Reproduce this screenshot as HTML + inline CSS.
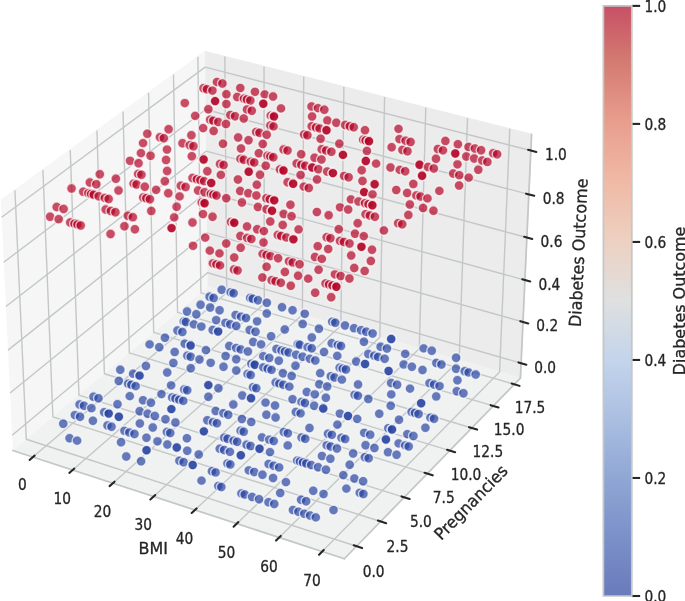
<!DOCTYPE html>
<html><head><meta charset="utf-8"><title>Diabetes 3D scatter</title>
<style>html,body{margin:0;padding:0;background:#fff;overflow:hidden}svg{display:block}</style></head>
<body>
<svg  width="685" height="601" viewBox="0 0 493.2 432.72"  version="1.1">
 
 <defs>
  <style type="text/css">*{stroke-linejoin: round; stroke-linecap: butt}</style>
 </defs>
 <g id="figure_1">
  <g id="patch_1">
   <path d="M 0 432.72 
L 493.2 432.72 
L 493.2 0 
L 0 0 
z
" style="fill: #ffffff"/>
  </g>
  <g id="patch_2">
   <path d="M -22.831 429.12 
L 402.040 429.12 
L 402.040 4.248 
L -22.831 4.248 
z
" style="fill: #ffffff"/>
  </g>
  <g id="pane3d_1">
   <g id="patch_3">
    <path d="M 9.249 324.360 
L 149.556 206.752 
L 147.605 37.140 
L 0.584 144.430 
" style="fill: #f6f6f6; stroke: #f6f6f6; stroke-linejoin: miter"/>
   </g>
  </g>
  <g id="pane3d_2">
   <g id="patch_4">
    <path d="M 149.556 206.752 
L 374.698 272.192 
L 382.732 96.738 
L 147.605 37.140 
" style="fill: #ececec; stroke: #ececec; stroke-linejoin: miter"/>
   </g>
  </g>
  <g id="pane3d_3">
   <g id="patch_5">
    <path d="M 9.249 324.360 
L 247.911 402.307 
L 374.698 272.192 
L 149.556 206.752 
" style="fill: #f0f2f1; stroke: #f0f2f1; stroke-linejoin: miter"/>
   </g>
  </g>
  <g id="grid3d_1">
   <g id="Line3DCollection_1">
    <path d="M 23.704 329.081 
L 163.248 210.732 
L 161.877 40.758 
" style="fill: none; stroke: #c3c7c7"/>
    <path d="M 52.300 338.420 
L 190.315 218.599 
L 190.098 47.911 
" style="fill: none; stroke: #c3c7c7"/>
    <path d="M 81.268 347.881 
L 217.704 226.560 
L 218.671 55.154 
" style="fill: none; stroke: #c3c7c7"/>
    <path d="M 110.615 357.466 
L 245.423 234.617 
L 247.603 62.487 
" style="fill: none; stroke: #c3c7c7"/>
    <path d="M 140.350 367.177 
L 273.476 242.771 
L 276.899 69.913 
" style="fill: none; stroke: #c3c7c7"/>
    <path d="M 170.480 377.018 
L 301.871 251.024 
L 306.567 77.433 
" style="fill: none; stroke: #c3c7c7"/>
    <path d="M 201.012 386.990 
L 330.613 259.378 
L 336.614 85.049 
" style="fill: none; stroke: #c3c7c7"/>
    <path d="M 231.956 397.096 
L 359.708 267.835 
L 367.047 92.763 
" style="fill: none; stroke: #c3c7c7"/>
   </g>
  </g>
  <g id="grid3d_2">
   <g id="Line3DCollection_2">
    <path d="M 10.751 137.010 
L 18.917 316.256 
L 256.683 393.304 
" style="fill: none; stroke: #c3c7c7"/>
    <path d="M 30.896 122.310 
L 38.089 300.185 
L 274.063 375.468 
" style="fill: none; stroke: #c3c7c7"/>
    <path d="M 50.573 107.951 
L 56.835 284.472 
L 291.037 358.049 
" style="fill: none; stroke: #c3c7c7"/>
    <path d="M 69.798 93.921 
L 75.169 269.104 
L 307.618 341.032 
" style="fill: none; stroke: #c3c7c7"/>
    <path d="M 88.587 80.209 
L 93.105 254.070 
L 323.821 324.404 
" style="fill: none; stroke: #c3c7c7"/>
    <path d="M 106.955 66.805 
L 110.655 239.359 
L 339.658 308.151 
" style="fill: none; stroke: #c3c7c7"/>
    <path d="M 124.916 53.698 
L 127.833 224.961 
L 355.141 292.262 
" style="fill: none; stroke: #c3c7c7"/>
    <path d="M 142.482 40.879 
L 144.649 210.865 
L 370.282 276.723 
" style="fill: none; stroke: #c3c7c7"/>
   </g>
  </g>
  <g id="grid3d_3">
   <g id="Line3DCollection_3">
    <path d="M 375.188 261.476 
L 149.436 196.372 
L 8.721 313.388 
" style="fill: none; stroke: #c3c7c7"/>
    <path d="M 376.548 231.781 
L 149.106 167.623 
L 7.256 282.972 
" style="fill: none; stroke: #c3c7c7"/>
    <path d="M 377.929 201.634 
L 148.770 138.457 
L 5.768 252.074 
" style="fill: none; stroke: #c3c7c7"/>
    <path d="M 379.331 171.023 
L 148.430 108.865 
L 4.256 220.684 
" style="fill: none; stroke: #c3c7c7"/>
    <path d="M 380.754 139.939 
L 148.085 78.837 
L 2.720 188.789 
" style="fill: none; stroke: #c3c7c7"/>
    <path d="M 382.200 108.371 
L 147.734 48.363 
L 1.160 156.377 
" style="fill: none; stroke: #c3c7c7"/>
   </g>
  </g>
  <g id="axis3d_1">
   <g id="line2d_1">
    <path d="M 9.249 324.360 
L 247.911 402.307 
" style="fill: none; stroke: #c3c7c7; stroke-width: 1.25; stroke-linecap: round"/>
   </g>
   <g id="xtick_1">
    <g id="line2d_2">
     <path d="M 195.346 210.942 
" clip-path="url(#p52636c809b)" style="fill: none; stroke: #c3c7c7; stroke-linecap: round"/>
    </g>
    <g id="line2d_3">
     <path d="M 24.919 328.050 
L 21.268 331.146 
" style="fill: none; stroke: #262626; stroke-width: 1.5; stroke-linecap: round"/>
    </g>
    <g id="text_1">
     <text textLength="6.30" lengthAdjust="spacingAndGlyphs" style="font-size: 11px; font-family: 'DejaVu Sans', 'Liberation Sans', sans-serif; text-anchor: middle; fill: #262626; stroke: #262626; stroke-width: 0.22" x="16.185" y="353.128">0</text>
    </g>
   </g>
   <g id="xtick_2">
    <g id="line2d_4">
     <path d="M 195.346 210.942 
" clip-path="url(#p52636c809b)" style="fill: none; stroke: #c3c7c7; stroke-linecap: round"/>
    </g>
    <g id="line2d_5">
     <path d="M 53.502 337.376 
L 49.889 340.512 
" style="fill: none; stroke: #262626; stroke-width: 1.5; stroke-linecap: round"/>
    </g>
    <g id="text_2">
     <text textLength="12.60" lengthAdjust="spacingAndGlyphs" style="font-size: 11px; font-family: 'DejaVu Sans', 'Liberation Sans', sans-serif; text-anchor: middle; fill: #262626; stroke: #262626; stroke-width: 0.22" x="44.799" y="362.591">10</text>
    </g>
   </g>
   <g id="xtick_3">
    <g id="line2d_6">
     <path d="M 195.346 210.942 
" clip-path="url(#p52636c809b)" style="fill: none; stroke: #c3c7c7; stroke-linecap: round"/>
    </g>
    <g id="line2d_7">
     <path d="M 82.457 346.823 
L 78.884 350.001 
" style="fill: none; stroke: #262626; stroke-width: 1.5; stroke-linecap: round"/>
    </g>
    <g id="text_3">
     <text textLength="12.60" lengthAdjust="spacingAndGlyphs" style="font-size: 11px; font-family: 'DejaVu Sans', 'Liberation Sans', sans-serif; text-anchor: middle; fill: #262626; stroke: #262626; stroke-width: 0.22" x="73.787" y="372.177">20</text>
    </g>
   </g>
   <g id="xtick_4">
    <g id="line2d_8">
     <path d="M 195.346 210.942 
" clip-path="url(#p52636c809b)" style="fill: none; stroke: #c3c7c7; stroke-linecap: round"/>
    </g>
    <g id="line2d_9">
     <path d="M 111.791 356.394 
L 108.259 359.614 
" style="fill: none; stroke: #262626; stroke-width: 1.5; stroke-linecap: round"/>
    </g>
    <g id="text_4">
     <text textLength="12.60" lengthAdjust="spacingAndGlyphs" style="font-size: 11px; font-family: 'DejaVu Sans', 'Liberation Sans', sans-serif; text-anchor: middle; fill: #262626; stroke: #262626; stroke-width: 0.22" x="103.155" y="381.890">30</text>
    </g>
   </g>
   <g id="xtick_5">
    <g id="line2d_10">
     <path d="M 195.346 210.942 
" clip-path="url(#p52636c809b)" style="fill: none; stroke: #c3c7c7; stroke-linecap: round"/>
    </g>
    <g id="line2d_11">
     <path d="M 141.512 366.092 
L 138.022 369.353 
" style="fill: none; stroke: #262626; stroke-width: 1.5; stroke-linecap: round"/>
    </g>
    <g id="text_5">
     <text textLength="12.60" lengthAdjust="spacingAndGlyphs" style="font-size: 11px; font-family: 'DejaVu Sans', 'Liberation Sans', sans-serif; text-anchor: middle; fill: #262626; stroke: #262626; stroke-width: 0.22" x="132.911" y="391.730">40</text>
    </g>
   </g>
   <g id="xtick_6">
    <g id="line2d_12">
     <path d="M 195.346 210.942 
" clip-path="url(#p52636c809b)" style="fill: none; stroke: #c3c7c7; stroke-linecap: round"/>
    </g>
    <g id="line2d_13">
     <path d="M 171.627 375.918 
L 168.180 379.223 
" style="fill: none; stroke: #262626; stroke-width: 1.5; stroke-linecap: round"/>
    </g>
    <g id="text_6">
     <text textLength="12.60" lengthAdjust="spacingAndGlyphs" style="font-size: 11px; font-family: 'DejaVu Sans', 'Liberation Sans', sans-serif; text-anchor: middle; fill: #262626; stroke: #262626; stroke-width: 0.22" x="163.064" y="401.702">50</text>
    </g>
   </g>
   <g id="xtick_7">
    <g id="line2d_14">
     <path d="M 195.346 210.942 
" clip-path="url(#p52636c809b)" style="fill: none; stroke: #c3c7c7; stroke-linecap: round"/>
    </g>
    <g id="line2d_15">
     <path d="M 202.145 385.875 
L 198.743 389.224 
" style="fill: none; stroke: #262626; stroke-width: 1.5; stroke-linecap: round"/>
    </g>
    <g id="text_7">
     <text textLength="12.60" lengthAdjust="spacingAndGlyphs" style="font-size: 11px; font-family: 'DejaVu Sans', 'Liberation Sans', sans-serif; text-anchor: middle; fill: #262626; stroke: #262626; stroke-width: 0.22" x="193.620" y="411.807">60</text>
    </g>
   </g>
   <g id="xtick_8">
    <g id="line2d_16">
     <path d="M 195.346 210.942 
" clip-path="url(#p52636c809b)" style="fill: none; stroke: #c3c7c7; stroke-linecap: round"/>
    </g>
    <g id="line2d_17">
     <path d="M 233.072 395.966 
L 229.717 399.361 
" style="fill: none; stroke: #262626; stroke-width: 1.5; stroke-linecap: round"/>
    </g>
    <g id="text_8">
     <text textLength="12.60" lengthAdjust="spacingAndGlyphs" style="font-size: 11px; font-family: 'DejaVu Sans', 'Liberation Sans', sans-serif; text-anchor: middle; fill: #262626; stroke: #262626; stroke-width: 0.22" x="224.589" y="422.049">70</text>
    </g>
   </g>
   <g id="text_9">
    <g transform="translate(1.08 -1.80)"><text textLength="21.17" lengthAdjust="spacingAndGlyphs" style="font-size: 12px; font-family: 'DejaVu Sans', 'Liberation Sans', sans-serif; text-anchor: middle; fill: #262626; stroke: #262626; stroke-width: 0.22" x="109.193" y="400.780">BMI</text></g>
   </g>
  </g>
  <g id="axis3d_2">
   <g id="line2d_18">
    <path d="M 374.698 272.192 
L 247.911 402.307 
" style="fill: none; stroke: #c3c7c7; stroke-width: 1.25; stroke-linecap: round"/>
   </g>
   <g id="xtick_9">
    <g id="line2d_19">
     <path d="M 195.346 210.942 
" clip-path="url(#p52636c809b)" style="fill: none; stroke: #c3c7c7; stroke-linecap: round"/>
    </g>
    <g id="line2d_20">
     <path d="M 254.680 392.654 
L 260.696 394.604 
" style="fill: none; stroke: #262626; stroke-width: 1.5; stroke-linecap: round"/>
    </g>
    <g id="text_10">
     <g transform="translate(-0.58 0.00)"><text textLength="15.74" lengthAdjust="spacingAndGlyphs" style="font-size: 11px; font-family: 'DejaVu Sans', 'Liberation Sans', sans-serif; text-anchor: middle; fill: #262626; stroke: #262626; stroke-width: 0.22" x="269.561" y="415.082">0.0</text></g>
    </g>
   </g>
   <g id="xtick_10">
    <g id="line2d_21">
     <path d="M 195.346 210.942 
" clip-path="url(#p52636c809b)" style="fill: none; stroke: #c3c7c7; stroke-linecap: round"/>
    </g>
    <g id="line2d_22">
     <path d="M 272.076 374.834 
L 278.043 376.737 
" style="fill: none; stroke: #262626; stroke-width: 1.5; stroke-linecap: round"/>
    </g>
    <g id="text_11">
     <g transform="translate(-0.58 0.00)"><text textLength="15.74" lengthAdjust="spacingAndGlyphs" style="font-size: 11px; font-family: 'DejaVu Sans', 'Liberation Sans', sans-serif; text-anchor: middle; fill: #262626; stroke: #262626; stroke-width: 0.22" x="286.795" y="397.081">2.5</text></g>
    </g>
   </g>
   <g id="xtick_11">
    <g id="line2d_23">
     <path d="M 195.346 210.942 
" clip-path="url(#p52636c809b)" style="fill: none; stroke: #c3c7c7; stroke-linecap: round"/>
    </g>
    <g id="line2d_24">
     <path d="M 289.065 357.429 
L 294.984 359.289 
" style="fill: none; stroke: #262626; stroke-width: 1.5; stroke-linecap: round"/>
    </g>
    <g id="text_12">
     <g transform="translate(-0.58 0.00)"><text textLength="15.74" lengthAdjust="spacingAndGlyphs" style="font-size: 11px; font-family: 'DejaVu Sans', 'Liberation Sans', sans-serif; text-anchor: middle; fill: #262626; stroke: #262626; stroke-width: 0.22" x="303.626" y="379.500">5.0</text></g>
    </g>
   </g>
   <g id="xtick_12">
    <g id="line2d_25">
     <path d="M 195.346 210.942 
" clip-path="url(#p52636c809b)" style="fill: none; stroke: #c3c7c7; stroke-linecap: round"/>
    </g>
    <g id="line2d_26">
     <path d="M 305.663 340.427 
L 311.534 342.244 
" style="fill: none; stroke: #262626; stroke-width: 1.5; stroke-linecap: round"/>
    </g>
    <g id="text_13">
     <g transform="translate(-0.58 0.00)"><text textLength="15.74" lengthAdjust="spacingAndGlyphs" style="font-size: 11px; font-family: 'DejaVu Sans', 'Liberation Sans', sans-serif; text-anchor: middle; fill: #262626; stroke: #262626; stroke-width: 0.22" x="320.068" y="362.326">7.5</text></g>
    </g>
   </g>
   <g id="xtick_13">
    <g id="line2d_27">
     <path d="M 195.346 210.942 
" clip-path="url(#p52636c809b)" style="fill: none; stroke: #c3c7c7; stroke-linecap: round"/>
    </g>
    <g id="line2d_28">
     <path d="M 321.881 323.813 
L 327.705 325.588 
" style="fill: none; stroke: #262626; stroke-width: 1.5; stroke-linecap: round"/>
    </g>
    <g id="text_14">
     <g transform="translate(-0.58 0.00)"><text textLength="22.04" lengthAdjust="spacingAndGlyphs" style="font-size: 11px; font-family: 'DejaVu Sans', 'Liberation Sans', sans-serif; text-anchor: middle; fill: #262626; stroke: #262626; stroke-width: 0.22" x="336.134" y="345.545">10.0</text></g>
    </g>
   </g>
   <g id="xtick_14">
    <g id="line2d_29">
     <path d="M 195.346 210.942 
" clip-path="url(#p52636c809b)" style="fill: none; stroke: #c3c7c7; stroke-linecap: round"/>
    </g>
    <g id="line2d_30">
     <path d="M 337.734 307.573 
L 343.511 309.309 
" style="fill: none; stroke: #262626; stroke-width: 1.5; stroke-linecap: round"/>
    </g>
    <g id="text_15">
     <g transform="translate(-0.58 0.00)"><text textLength="22.04" lengthAdjust="spacingAndGlyphs" style="font-size: 11px; font-family: 'DejaVu Sans', 'Liberation Sans', sans-serif; text-anchor: middle; fill: #262626; stroke: #262626; stroke-width: 0.22" x="351.838" y="329.142">12.5</text></g>
    </g>
   </g>
   <g id="xtick_15">
    <g id="line2d_31">
     <path d="M 195.346 210.942 
" clip-path="url(#p52636c809b)" style="fill: none; stroke: #c3c7c7; stroke-linecap: round"/>
    </g>
    <g id="line2d_32">
     <path d="M 353.232 291.697 
L 358.964 293.394 
" style="fill: none; stroke: #262626; stroke-width: 1.5; stroke-linecap: round"/>
    </g>
    <g id="text_16">
     <g transform="translate(-0.58 0.00)"><text textLength="22.04" lengthAdjust="spacingAndGlyphs" style="font-size: 11px; font-family: 'DejaVu Sans', 'Liberation Sans', sans-serif; text-anchor: middle; fill: #262626; stroke: #262626; stroke-width: 0.22" x="367.190" y="313.106">15.0</text></g>
    </g>
   </g>
   <g id="xtick_16">
    <g id="line2d_33">
     <path d="M 195.346 210.942 
" clip-path="url(#p52636c809b)" style="fill: none; stroke: #c3c7c7; stroke-linecap: round"/>
    </g>
    <g id="line2d_34">
     <path d="M 368.388 276.170 
L 374.075 277.830 
" style="fill: none; stroke: #262626; stroke-width: 1.5; stroke-linecap: round"/>
    </g>
    <g id="text_17">
     <g transform="translate(-0.58 0.00)"><text textLength="22.04" lengthAdjust="spacingAndGlyphs" style="font-size: 11px; font-family: 'DejaVu Sans', 'Liberation Sans', sans-serif; text-anchor: middle; fill: #262626; stroke: #262626; stroke-width: 0.22" x="382.204" y="297.424">17.5</text></g>
    </g>
   </g>
   <g id="text_18">
    <g transform="translate(-1.44 0.00)"><text textLength="69.70" lengthAdjust="spacingAndGlyphs" style="font-size: 12px; font-family: 'DejaVu Sans', 'Liberation Sans', sans-serif; text-anchor: middle; fill: #262626; stroke: #262626; stroke-width: 0.22" x="343.472" y="364.645" transform="rotate(-45.742 343.472 364.645)">Pregnancies</text></g>
   </g>
  </g>
  <g id="axis3d_3">
   <g id="line2d_35">
    <path d="M 374.698 272.192 
L 382.732 96.738 
" style="fill: none; stroke: #c3c7c7; stroke-width: 1.25; stroke-linecap: round"/>
   </g>
   <g id="xtick_17">
    <g id="line2d_36">
     <path d="M 195.346 210.942 
" style="fill: none; stroke: #c3c7c7; stroke-linecap: round"/>
    </g>
    <g id="line2d_37">
     <path d="M 373.294 260.930 
L 378.983 262.570 
" style="fill: none; stroke: #262626; stroke-width: 1.5; stroke-linecap: round"/>
    </g>
    <g id="text_19">
     <g transform="translate(-1.00 1.00)"><text textLength="15.74" lengthAdjust="spacingAndGlyphs" style="font-size: 11px; font-family: 'DejaVu Sans', 'Liberation Sans', sans-serif; text-anchor: middle; fill: #262626; stroke: #262626; stroke-width: 0.22" x="393.507" y="267.240">0.0</text></g>
    </g>
   </g>
   <g id="xtick_18">
    <g id="line2d_38">
     <path d="M 195.346 210.942 
" style="fill: none; stroke: #c3c7c7; stroke-linecap: round"/>
    </g>
    <g id="line2d_39">
     <path d="M 374.638 231.242 
L 380.372 232.860 
" style="fill: none; stroke: #262626; stroke-width: 1.5; stroke-linecap: round"/>
    </g>
    <g id="text_20">
     <g transform="translate(-1.00 1.00)"><text textLength="15.74" lengthAdjust="spacingAndGlyphs" style="font-size: 11px; font-family: 'DejaVu Sans', 'Liberation Sans', sans-serif; text-anchor: middle; fill: #262626; stroke: #262626; stroke-width: 0.22" x="395.002" y="237.581">0.2</text></g>
    </g>
   </g>
   <g id="xtick_19">
    <g id="line2d_40">
     <path d="M 195.346 210.942 
" style="fill: none; stroke: #c3c7c7; stroke-linecap: round"/>
    </g>
    <g id="line2d_41">
     <path d="M 376.004 201.103 
L 381.783 202.696 
" style="fill: none; stroke: #262626; stroke-width: 1.5; stroke-linecap: round"/>
    </g>
    <g id="text_21">
     <g transform="translate(-1.00 1.00)"><text textLength="15.74" lengthAdjust="spacingAndGlyphs" style="font-size: 11px; font-family: 'DejaVu Sans', 'Liberation Sans', sans-serif; text-anchor: middle; fill: #262626; stroke: #262626; stroke-width: 0.22" x="396.520" y="207.472">0.4</text></g>
    </g>
   </g>
   <g id="xtick_20">
    <g id="line2d_42">
     <path d="M 195.346 210.942 
" style="fill: none; stroke: #c3c7c7; stroke-linecap: round"/>
    </g>
    <g id="line2d_43">
     <path d="M 377.390 170.501 
L 383.216 172.069 
" style="fill: none; stroke: #262626; stroke-width: 1.5; stroke-linecap: round"/>
    </g>
    <g id="text_22">
     <g transform="translate(-1.00 1.00)"><text textLength="15.74" lengthAdjust="spacingAndGlyphs" style="font-size: 11px; font-family: 'DejaVu Sans', 'Liberation Sans', sans-serif; text-anchor: middle; fill: #262626; stroke: #262626; stroke-width: 0.22" x="398.062" y="176.901">0.6</text></g>
    </g>
   </g>
   <g id="xtick_21">
    <g id="line2d_44">
     <path d="M 195.346 210.942 
" style="fill: none; stroke: #c3c7c7; stroke-linecap: round"/>
    </g>
    <g id="line2d_45">
     <path d="M 378.798 139.426 
L 384.670 140.968 
" style="fill: none; stroke: #262626; stroke-width: 1.5; stroke-linecap: round"/>
    </g>
    <g id="text_23">
     <g transform="translate(-1.00 1.00)"><text textLength="15.74" lengthAdjust="spacingAndGlyphs" style="font-size: 11px; font-family: 'DejaVu Sans', 'Liberation Sans', sans-serif; text-anchor: middle; fill: #262626; stroke: #262626; stroke-width: 0.22" x="399.627" y="145.859">0.8</text></g>
    </g>
   </g>
   <g id="xtick_22">
    <g id="line2d_46">
     <path d="M 195.346 210.942 
" style="fill: none; stroke: #c3c7c7; stroke-linecap: round"/>
    </g>
    <g id="line2d_47">
     <path d="M 380.228 107.866 
L 386.148 109.381 
" style="fill: none; stroke: #262626; stroke-width: 1.5; stroke-linecap: round"/>
    </g>
    <g id="text_24">
     <g transform="translate(-1.00 1.00)"><text textLength="15.74" lengthAdjust="spacingAndGlyphs" style="font-size: 11px; font-family: 'DejaVu Sans', 'Liberation Sans', sans-serif; text-anchor: middle; fill: #262626; stroke: #262626; stroke-width: 0.22" x="401.217" y="114.333">1.0</text></g>
    </g>
   </g>
   <g id="text_25">
    <g transform="translate(-1.80 1.08)"><text textLength="107.04" lengthAdjust="spacingAndGlyphs" style="font-size: 12px; font-family: 'DejaVu Sans', 'Liberation Sans', sans-serif; text-anchor: middle; fill: #262626; stroke: #262626; stroke-width: 0.22" x="422.411" y="181.116" transform="rotate(-87.378 422.411 181.116)">Diabetes Outcome</text></g>
   </g>
  </g>
  <g id="axes_1">
   <g id="Path3DCollection_1">
    <defs>
     <path id="C0_0_8627b4304c" d="M 0 3.535 
C 0.937 3.535 1.836 3.163 2.5 2.5 
C 3.163 1.836 3.535 0.937 3.535 -0 
C 3.535 -0.937 3.163 -1.836 2.5 -2.5 
C 1.836 -3.163 0.937 -3.535 0 -3.535 
C -0.937 -3.535 -1.836 -3.163 -2.5 -2.5 
C -3.163 -1.836 -3.535 -0.937 -3.535 0 
C -3.535 0.937 -3.163 1.836 -2.5 2.5 
C -1.836 3.163 -0.937 3.535 0 3.535 
z
"/>
    </defs>
    <use href="#C0_0_8627b4304c" x="159.608" y="208.599" style="fill: #2845a3; fill-opacity: 0.7; stroke: #ffffff; stroke-opacity: 0.7"/>
    <use href="#C0_0_8627b4304c" x="166.073" y="210.476" style="fill: #2845a3; fill-opacity: 0.7; stroke: #ffffff; stroke-opacity: 0.7"/>
    <use href="#C0_0_8627b4304c" x="168.196" y="211.093" style="fill: #2845a3; fill-opacity: 0.7; stroke: #ffffff; stroke-opacity: 0.7"/>
    <use href="#C0_0_8627b4304c" x="150.890" y="213.646" style="fill: #2845a3; fill-opacity: 0.7; stroke: #ffffff; stroke-opacity: 0.7"/>
    <use href="#C0_0_8627b4304c" x="153.799" y="214.496" style="fill: #2845a3; fill-opacity: 0.7; stroke: #ffffff; stroke-opacity: 0.7"/>
    <use href="#C0_0_8627b4304c" x="180.098" y="214.550" style="fill: #2845a3; fill-opacity: 0.7; stroke: #ffffff; stroke-opacity: 0.7"/>
    <use href="#C0_0_8627b4304c" x="181.987" y="215.098" style="fill: #2845a3; fill-opacity: 0.7; stroke: #ffffff; stroke-opacity: 0.7"/>
    <use href="#C0_0_8627b4304c" x="185.770" y="216.197" style="fill: #2845a3; fill-opacity: 0.7; stroke: #ffffff; stroke-opacity: 0.7"/>
    <use href="#C0_0_8627b4304c" x="192.117" y="218.040" style="fill: #2845a3; fill-opacity: 0.7; stroke: #ffffff; stroke-opacity: 0.7"/>
    <use href="#C0_0_8627b4304c" x="144.420" y="219.411" style="fill: #2845a3; fill-opacity: 0.7; stroke: #ffffff; stroke-opacity: 0.7"/>
    <use href="#C0_0_8627b4304c" x="203.038" y="221.212" style="fill: #2845a3; fill-opacity: 0.7; stroke: #ffffff; stroke-opacity: 0.7"/>
    <use href="#C0_0_8627b4304c" x="151.326" y="221.440" style="fill: #2845a3; fill-opacity: 0.7; stroke: #ffffff; stroke-opacity: 0.7"/>
    <use href="#C0_0_8627b4304c" x="210.625" y="223.416" style="fill: #2845a3; fill-opacity: 0.7; stroke: #ffffff; stroke-opacity: 0.7"/>
    <use href="#C0_0_8627b4304c" x="158.089" y="223.427" style="fill: #2845a3; fill-opacity: 0.7; stroke: #ffffff; stroke-opacity: 0.7"/>
    <use href="#C0_0_8627b4304c" x="134.698" y="224.283" style="fill: #2845a3; fill-opacity: 0.7; stroke: #ffffff; stroke-opacity: 0.7"/>
    <use href="#C0_0_8627b4304c" x="192.078" y="225.676" style="fill: #2845a3; fill-opacity: 0.7; stroke: #ffffff; stroke-opacity: 0.7"/>
    <use href="#C0_0_8627b4304c" x="219.434" y="225.974" style="fill: #2845a3; fill-opacity: 0.7; stroke: #ffffff; stroke-opacity: 0.7"/>
    <use href="#C0_0_8627b4304c" x="141.341" y="226.246" style="fill: #2845a3; fill-opacity: 0.7; stroke: #ffffff; stroke-opacity: 0.7"/>
    <use href="#C0_0_8627b4304c" x="169.662" y="226.827" style="fill: #2845a3; fill-opacity: 0.7; stroke: #ffffff; stroke-opacity: 0.7"/>
    <use href="#C0_0_8627b4304c" x="173.551" y="227.969" style="fill: #2845a3; fill-opacity: 0.7; stroke: #ffffff; stroke-opacity: 0.7"/>
    <use href="#C0_0_8627b4304c" x="177.115" y="229.016" style="fill: #2845a3; fill-opacity: 0.7; stroke: #ffffff; stroke-opacity: 0.7"/>
    <use href="#C0_0_8627b4304c" x="155.649" y="230.473" style="fill: #2845a3; fill-opacity: 0.7; stroke: #ffffff; stroke-opacity: 0.7"/>
    <use href="#C0_0_8627b4304c" x="185.120" y="231.368" style="fill: #2845a3; fill-opacity: 0.7; stroke: #ffffff; stroke-opacity: 0.7"/>
    <use href="#C0_0_8627b4304c" x="132.326" y="231.395" style="fill: #2845a3; fill-opacity: 0.7; stroke: #ffffff; stroke-opacity: 0.7"/>
    <use href="#C0_0_8627b4304c" x="239.175" y="231.707" style="fill: #2845a3; fill-opacity: 0.7; stroke: #ffffff; stroke-opacity: 0.7"/>
    <use href="#C0_0_8627b4304c" x="133.890" y="231.860" style="fill: #2845a3; fill-opacity: 0.7; stroke: #ffffff; stroke-opacity: 0.7"/>
    <use href="#C0_0_8627b4304c" x="241.394" y="232.352" style="fill: #2845a3; fill-opacity: 0.7; stroke: #ffffff; stroke-opacity: 0.7"/>
    <use href="#C0_0_8627b4304c" x="162.354" y="232.454" style="fill: #2845a3; fill-opacity: 0.7; stroke: #ffffff; stroke-opacity: 0.7"/>
    <use href="#C0_0_8627b4304c" x="217.929" y="233.227" style="fill: #2845a3; fill-opacity: 0.7; stroke: #ffffff; stroke-opacity: 0.7"/>
    <use href="#C0_0_8627b4304c" x="165.782" y="233.468" style="fill: #2845a3; fill-opacity: 0.7; stroke: #ffffff; stroke-opacity: 0.7"/>
    <use href="#C0_0_8627b4304c" x="139.606" y="233.559" style="fill: #2845a3; fill-opacity: 0.7; stroke: #ffffff; stroke-opacity: 0.7"/>
    <use href="#C0_0_8627b4304c" x="248.432" y="234.395" style="fill: #2845a3; fill-opacity: 0.7; stroke: #ffffff; stroke-opacity: 0.7"/>
    <use href="#C0_0_8627b4304c" x="170.103" y="234.744" style="fill: #2845a3; fill-opacity: 0.7; stroke: #ffffff; stroke-opacity: 0.7"/>
    <use href="#C0_0_8627b4304c" x="144.950" y="235.147" style="fill: #2845a3; fill-opacity: 0.7; stroke: #ffffff; stroke-opacity: 0.7"/>
    <use href="#C0_0_8627b4304c" x="254.897" y="236.273" style="fill: #2845a3; fill-opacity: 0.7; stroke: #ffffff; stroke-opacity: 0.7"/>
    <use href="#C0_0_8627b4304c" x="229.628" y="236.644" style="fill: #2845a3; fill-opacity: 0.7; stroke: #ffffff; stroke-opacity: 0.7"/>
    <use href="#C0_0_8627b4304c" x="205.044" y="237.221" style="fill: #2845a3; fill-opacity: 0.7; stroke: #ffffff; stroke-opacity: 0.7"/>
    <use href="#C0_0_8627b4304c" x="153.156" y="237.586" style="fill: #2845a3; fill-opacity: 0.7; stroke: #ffffff; stroke-opacity: 0.7"/>
    <use href="#C0_0_8627b4304c" x="179.772" y="237.601" style="fill: #2845a3; fill-opacity: 0.7; stroke: #ffffff; stroke-opacity: 0.7"/>
    <use href="#C0_0_8627b4304c" x="260.019" y="237.761" style="fill: #2845a3; fill-opacity: 0.7; stroke: #ffffff; stroke-opacity: 0.7"/>
    <use href="#C0_0_8627b4304c" x="127.752" y="237.934" style="fill: #2845a3; fill-opacity: 0.7; stroke: #ffffff; stroke-opacity: 0.7"/>
    <use href="#C0_0_8627b4304c" x="157.062" y="238.747" style="fill: #2845a3; fill-opacity: 0.7; stroke: #ffffff; stroke-opacity: 0.7"/>
    <use href="#C0_0_8627b4304c" x="157.062" y="238.747" style="fill: #2845a3; fill-opacity: 0.7; stroke: #ffffff; stroke-opacity: 0.7"/>
    <use href="#C0_0_8627b4304c" x="263.706" y="238.831" style="fill: #2845a3; fill-opacity: 0.7; stroke: #ffffff; stroke-opacity: 0.7"/>
    <use href="#C0_0_8627b4304c" x="183.980" y="238.845" style="fill: #2845a3; fill-opacity: 0.7; stroke: #ffffff; stroke-opacity: 0.7"/>
    <use href="#C0_0_8627b4304c" x="131.279" y="238.988" style="fill: #2845a3; fill-opacity: 0.7; stroke: #ffffff; stroke-opacity: 0.7"/>
    <use href="#C0_0_8627b4304c" x="268.279" y="240.160" style="fill: #2845a3; fill-opacity: 0.7; stroke: #ffffff; stroke-opacity: 0.7"/>
    <use href="#C0_0_8627b4304c" x="195.192" y="242.158" style="fill: #2845a3; fill-opacity: 0.7; stroke: #ffffff; stroke-opacity: 0.7"/>
    <use href="#C0_0_8627b4304c" x="224.494" y="242.935" style="fill: #2845a3; fill-opacity: 0.7; stroke: #ffffff; stroke-opacity: 0.7"/>
    <use href="#C0_0_8627b4304c" x="118.771" y="243.224" style="fill: #2845a3; fill-opacity: 0.7; stroke: #ffffff; stroke-opacity: 0.7"/>
    <use href="#C0_0_8627b4304c" x="281.653" y="244.044" style="fill: #2845a3; fill-opacity: 0.7; stroke: #ffffff; stroke-opacity: 0.7"/>
    <use href="#C0_0_8627b4304c" x="281.653" y="244.044" style="fill: #2845a3; fill-opacity: 0.7; stroke: #ffffff; stroke-opacity: 0.7"/>
    <use href="#C0_0_8627b4304c" x="262.028" y="246.108" style="fill: #2845a3; fill-opacity: 0.7; stroke: #ffffff; stroke-opacity: 0.7"/>
    <use href="#C0_0_8627b4304c" x="182.323" y="246.255" style="fill: #2845a3; fill-opacity: 0.7; stroke: #ffffff; stroke-opacity: 0.7"/>
    <use href="#C0_0_8627b4304c" x="238.848" y="247.152" style="fill: #2845a3; fill-opacity: 0.7; stroke: #ffffff; stroke-opacity: 0.7"/>
    <use href="#C0_0_8627b4304c" x="133.022" y="247.509" style="fill: #2845a3; fill-opacity: 0.7; stroke: #ffffff; stroke-opacity: 0.7"/>
    <use href="#C0_0_8627b4304c" x="214.389" y="247.830" style="fill: #2845a3; fill-opacity: 0.7; stroke: #ffffff; stroke-opacity: 0.7"/>
    <use href="#C0_0_8627b4304c" x="187.993" y="247.940" style="fill: #2845a3; fill-opacity: 0.7; stroke: #ffffff; stroke-opacity: 0.7"/>
    <use href="#C0_0_8627b4304c" x="107.730" y="247.953" style="fill: #2845a3; fill-opacity: 0.7; stroke: #ffffff; stroke-opacity: 0.7"/>
    <use href="#C0_0_8627b4304c" x="215.859" y="248.264" style="fill: #2845a3; fill-opacity: 0.7; stroke: #ffffff; stroke-opacity: 0.7"/>
    <use href="#C0_0_8627b4304c" x="243.283" y="248.455" style="fill: #2845a3; fill-opacity: 0.7; stroke: #ffffff; stroke-opacity: 0.7"/>
    <use href="#C0_0_8627b4304c" x="137.245" y="248.779" style="fill: #2845a3; fill-opacity: 0.7; stroke: #ffffff; stroke-opacity: 0.7"/>
    <use href="#C0_0_8627b4304c" x="137.245" y="248.779" style="fill: #2845a3; fill-opacity: 0.7; stroke: #ffffff; stroke-opacity: 0.7"/>
    <use href="#C0_0_8627b4304c" x="165.089" y="249.095" style="fill: #2845a3; fill-opacity: 0.7; stroke: #ffffff; stroke-opacity: 0.7"/>
    <use href="#C0_0_8627b4304c" x="245.504" y="249.107" style="fill: #2845a3; fill-opacity: 0.7; stroke: #ffffff; stroke-opacity: 0.7"/>
    <use href="#C0_0_8627b4304c" x="274.038" y="249.616" style="fill: #2845a3; fill-opacity: 0.7; stroke: #ffffff; stroke-opacity: 0.7"/>
    <use href="#C0_0_8627b4304c" x="221.522" y="249.938" style="fill: #2845a3; fill-opacity: 0.7; stroke: #ffffff; stroke-opacity: 0.7"/>
    <use href="#C0_0_8627b4304c" x="114.644" y="250.045" style="fill: #2845a3; fill-opacity: 0.7; stroke: #ffffff; stroke-opacity: 0.7"/>
    <use href="#C0_0_8627b4304c" x="170.076" y="250.586" style="fill: #2845a3; fill-opacity: 0.7; stroke: #ffffff; stroke-opacity: 0.7"/>
    <use href="#C0_0_8627b4304c" x="224.416" y="250.793" style="fill: #2845a3; fill-opacity: 0.7; stroke: #ffffff; stroke-opacity: 0.7"/>
    <use href="#C0_0_8627b4304c" x="305.047" y="250.838" style="fill: #2845a3; fill-opacity: 0.7; stroke: #ffffff; stroke-opacity: 0.7"/>
    <use href="#C0_0_8627b4304c" x="278.629" y="250.957" style="fill: #2845a3; fill-opacity: 0.7; stroke: #ffffff; stroke-opacity: 0.7"/>
    <use href="#C0_0_8627b4304c" x="199.065" y="251.231" style="fill: #2845a3; fill-opacity: 0.7; stroke: #ffffff; stroke-opacity: 0.7"/>
    <use href="#C0_0_8627b4304c" x="173.304" y="251.551" style="fill: #2845a3; fill-opacity: 0.7; stroke: #ffffff; stroke-opacity: 0.7"/>
    <use href="#C0_0_8627b4304c" x="148.285" y="252.099" style="fill: #2845a3; fill-opacity: 0.7; stroke: #ffffff; stroke-opacity: 0.7"/>
    <use href="#C0_0_8627b4304c" x="202.739" y="252.323" style="fill: #2845a3; fill-opacity: 0.7; stroke: #ffffff; stroke-opacity: 0.7"/>
    <use href="#C0_0_8627b4304c" x="310.860" y="252.526" style="fill: #2845a3; fill-opacity: 0.7; stroke: #ffffff; stroke-opacity: 0.7"/>
    <use href="#C0_0_8627b4304c" x="205.173" y="253.046" style="fill: #2845a3; fill-opacity: 0.7; stroke: #ffffff; stroke-opacity: 0.7"/>
    <use href="#C0_0_8627b4304c" x="178.506" y="253.107" style="fill: #2845a3; fill-opacity: 0.7; stroke: #ffffff; stroke-opacity: 0.7"/>
    <use href="#C0_0_8627b4304c" x="125.778" y="253.413" style="fill: #2845a3; fill-opacity: 0.7; stroke: #ffffff; stroke-opacity: 0.7"/>
    <use href="#C0_0_8627b4304c" x="233.290" y="253.415" style="fill: #2845a3; fill-opacity: 0.7; stroke: #ffffff; stroke-opacity: 0.7"/>
    <use href="#C0_0_8627b4304c" x="207.808" y="253.829" style="fill: #2845a3; fill-opacity: 0.7; stroke: #ffffff; stroke-opacity: 0.7"/>
    <use href="#C0_0_8627b4304c" x="291.764" y="254.794" style="fill: #2845a3; fill-opacity: 0.7; stroke: #ffffff; stroke-opacity: 0.7"/>
    <use href="#C0_0_8627b4304c" x="265.182" y="254.888" style="fill: #2845a3; fill-opacity: 0.7; stroke: #ffffff; stroke-opacity: 0.7"/>
    <use href="#C0_0_8627b4304c" x="213.257" y="255.449" style="fill: #2845a3; fill-opacity: 0.7; stroke: #ffffff; stroke-opacity: 0.7"/>
    <use href="#C0_0_8627b4304c" x="134.871" y="256.164" style="fill: #2845a3; fill-opacity: 0.7; stroke: #ffffff; stroke-opacity: 0.7"/>
    <use href="#C0_0_8627b4304c" x="269.524" y="256.164" style="fill: #2845a3; fill-opacity: 0.7; stroke: #ffffff; stroke-opacity: 0.7"/>
    <use href="#C0_0_8627b4304c" x="242.828" y="256.233" style="fill: #2845a3; fill-opacity: 0.7; stroke: #ffffff; stroke-opacity: 0.7"/>
    <use href="#C0_0_8627b4304c" x="162.443" y="256.356" style="fill: #2845a3; fill-opacity: 0.7; stroke: #ffffff; stroke-opacity: 0.7"/>
    <use href="#C0_0_8627b4304c" x="189.569" y="256.414" style="fill: #2845a3; fill-opacity: 0.7; stroke: #ffffff; stroke-opacity: 0.7"/>
    <use href="#C0_0_8627b4304c" x="217.922" y="256.835" style="fill: #2845a3; fill-opacity: 0.7; stroke: #ffffff; stroke-opacity: 0.7"/>
    <use href="#C0_0_8627b4304c" x="137.304" y="256.899" style="fill: #2845a3; fill-opacity: 0.7; stroke: #ffffff; stroke-opacity: 0.7"/>
    <use href="#C0_0_8627b4304c" x="272.202" y="256.950" style="fill: #2845a3; fill-opacity: 0.7; stroke: #ffffff; stroke-opacity: 0.7"/>
    <use href="#C0_0_8627b4304c" x="156.217" y="59.086" style="fill: #b40426; fill-opacity: 0.7; stroke: #ffffff; stroke-opacity: 0.7"/>
    <use href="#C0_0_8627b4304c" x="328.356" y="257.607" style="fill: #2845a3; fill-opacity: 0.7; stroke: #ffffff; stroke-opacity: 0.7"/>
    <use href="#C0_0_8627b4304c" x="193.902" y="257.709" style="fill: #2845a3; fill-opacity: 0.7; stroke: #ffffff; stroke-opacity: 0.7"/>
    <use href="#C0_0_8627b4304c" x="276.960" y="258.348" style="fill: #2845a3; fill-opacity: 0.7; stroke: #ffffff; stroke-opacity: 0.7"/>
    <use href="#C0_0_8627b4304c" x="223.139" y="258.386" style="fill: #2845a3; fill-opacity: 0.7; stroke: #ffffff; stroke-opacity: 0.7"/>
    <use href="#C0_0_8627b4304c" x="170.076" y="258.652" style="fill: #2845a3; fill-opacity: 0.7; stroke: #ffffff; stroke-opacity: 0.7"/>
    <use href="#C0_0_8627b4304c" x="160.128" y="60.095" style="fill: #b40426; fill-opacity: 0.7; stroke: #ffffff; stroke-opacity: 0.7"/>
    <use href="#C0_0_8627b4304c" x="143.607" y="258.806" style="fill: #2845a3; fill-opacity: 0.7; stroke: #ffffff; stroke-opacity: 0.7"/>
    <use href="#C0_0_8627b4304c" x="227.023" y="259.540" style="fill: #2845a3; fill-opacity: 0.7; stroke: #ffffff; stroke-opacity: 0.7"/>
    <use href="#C0_0_8627b4304c" x="200.743" y="259.754" style="fill: #2845a3; fill-opacity: 0.7; stroke: #ffffff; stroke-opacity: 0.7"/>
    <use href="#C0_0_8627b4304c" x="256.488" y="260.269" style="fill: #2845a3; fill-opacity: 0.7; stroke: #ffffff; stroke-opacity: 0.7"/>
    <use href="#C0_0_8627b4304c" x="151.673" y="261.246" style="fill: #2845a3; fill-opacity: 0.7; stroke: #ffffff; stroke-opacity: 0.7"/>
    <use href="#C0_0_8627b4304c" x="124.817" y="261.299" style="fill: #2845a3; fill-opacity: 0.7; stroke: #ffffff; stroke-opacity: 0.7"/>
    <use href="#C0_0_8627b4304c" x="314.141" y="261.330" style="fill: #2845a3; fill-opacity: 0.7; stroke: #ffffff; stroke-opacity: 0.7"/>
    <use href="#C0_0_8627b4304c" x="180.993" y="261.935" style="fill: #2845a3; fill-opacity: 0.7; stroke: #ffffff; stroke-opacity: 0.7"/>
    <use href="#C0_0_8627b4304c" x="262.829" y="262.143" style="fill: #2845a3; fill-opacity: 0.7; stroke: #ffffff; stroke-opacity: 0.7"/>
    <use href="#C0_0_8627b4304c" x="262.829" y="262.143" style="fill: #2845a3; fill-opacity: 0.7; stroke: #ffffff; stroke-opacity: 0.7"/>
    <use href="#C0_0_8627b4304c" x="290.655" y="262.372" style="fill: #2845a3; fill-opacity: 0.7; stroke: #ffffff; stroke-opacity: 0.7"/>
    <use href="#C0_0_8627b4304c" x="317.819" y="262.404" style="fill: #2845a3; fill-opacity: 0.7; stroke: #ffffff; stroke-opacity: 0.7"/>
    <use href="#C0_0_8627b4304c" x="173.003" y="63.414" style="fill: #b40426; fill-opacity: 0.7; stroke: #ffffff; stroke-opacity: 0.7"/>
    <use href="#C0_0_8627b4304c" x="183.433" y="262.668" style="fill: #2845a3; fill-opacity: 0.7; stroke: #ffffff; stroke-opacity: 0.7"/>
    <use href="#C0_0_8627b4304c" x="183.433" y="262.668" style="fill: #2845a3; fill-opacity: 0.7; stroke: #ffffff; stroke-opacity: 0.7"/>
    <use href="#C0_0_8627b4304c" x="146.515" y="63.561" style="fill: #b40426; fill-opacity: 0.7; stroke: #ffffff; stroke-opacity: 0.7"/>
    <use href="#C0_0_8627b4304c" x="212.742" y="263.341" style="fill: #2845a3; fill-opacity: 0.7; stroke: #ffffff; stroke-opacity: 0.7"/>
    <use href="#C0_0_8627b4304c" x="148.994" y="64.204" style="fill: #b40426; fill-opacity: 0.7; stroke: #ffffff; stroke-opacity: 0.7"/>
    <use href="#C0_0_8627b4304c" x="105.092" y="263.536" style="fill: #2845a3; fill-opacity: 0.7; stroke: #ffffff; stroke-opacity: 0.7"/>
    <use href="#C0_0_8627b4304c" x="160.927" y="264.046" style="fill: #2845a3; fill-opacity: 0.7; stroke: #ffffff; stroke-opacity: 0.7"/>
    <use href="#C0_0_8627b4304c" x="296.558" y="264.106" style="fill: #2845a3; fill-opacity: 0.7; stroke: #ffffff; stroke-opacity: 0.7"/>
    <use href="#C0_0_8627b4304c" x="189.543" y="264.506" style="fill: #2845a3; fill-opacity: 0.7; stroke: #ffffff; stroke-opacity: 0.7"/>
    <use href="#C0_0_8627b4304c" x="152.943" y="65.228" style="fill: #b40426; fill-opacity: 0.7; stroke: #ffffff; stroke-opacity: 0.7"/>
    <use href="#C0_0_8627b4304c" x="244.555" y="264.751" style="fill: #2845a3; fill-opacity: 0.7; stroke: #ffffff; stroke-opacity: 0.7"/>
    <use href="#C0_0_8627b4304c" x="137.335" y="265.108" style="fill: #2845a3; fill-opacity: 0.7; stroke: #ffffff; stroke-opacity: 0.7"/>
    <use href="#C0_0_8627b4304c" x="246.774" y="265.410" style="fill: #2845a3; fill-opacity: 0.7; stroke: #ffffff; stroke-opacity: 0.7"/>
    <use href="#C0_0_8627b4304c" x="192.761" y="265.473" style="fill: #2845a3; fill-opacity: 0.7; stroke: #ffffff; stroke-opacity: 0.7"/>
    <use href="#C0_0_8627b4304c" x="328.386" y="265.491" style="fill: #2845a3; fill-opacity: 0.7; stroke: #ffffff; stroke-opacity: 0.7"/>
    <use href="#C0_0_8627b4304c" x="183.560" y="66.136" style="fill: #b40426; fill-opacity: 0.7; stroke: #ffffff; stroke-opacity: 0.7"/>
    <use href="#C0_0_8627b4304c" x="249.082" y="266.096" style="fill: #2845a3; fill-opacity: 0.7; stroke: #ffffff; stroke-opacity: 0.7"/>
    <use href="#C0_0_8627b4304c" x="86.584" y="266.175" style="fill: #2845a3; fill-opacity: 0.7; stroke: #ffffff; stroke-opacity: 0.7"/>
    <use href="#C0_0_8627b4304c" x="195.498" y="266.297" style="fill: #2845a3; fill-opacity: 0.7; stroke: #ffffff; stroke-opacity: 0.7"/>
    <use href="#C0_0_8627b4304c" x="304.197" y="266.350" style="fill: #2845a3; fill-opacity: 0.7; stroke: #ffffff; stroke-opacity: 0.7"/>
    <use href="#C0_0_8627b4304c" x="170.105" y="266.822" style="fill: #2845a3; fill-opacity: 0.7; stroke: #ffffff; stroke-opacity: 0.7"/>
    <use href="#C0_0_8627b4304c" x="279.804" y="267.159" style="fill: #2845a3; fill-opacity: 0.7; stroke: #ffffff; stroke-opacity: 0.7"/>
    <use href="#C0_0_8627b4304c" x="279.804" y="267.159" style="fill: #2845a3; fill-opacity: 0.7; stroke: #ffffff; stroke-opacity: 0.7"/>
    <use href="#C0_0_8627b4304c" x="334.614" y="267.310" style="fill: #2845a3; fill-opacity: 0.7; stroke: #ffffff; stroke-opacity: 0.7"/>
    <use href="#C0_0_8627b4304c" x="162.988" y="67.834" style="fill: #b40426; fill-opacity: 0.7; stroke: #ffffff; stroke-opacity: 0.7"/>
    <use href="#C0_0_8627b4304c" x="190.597" y="67.950" style="fill: #b40426; fill-opacity: 0.7; stroke: #ffffff; stroke-opacity: 0.7"/>
    <use href="#C0_0_8627b4304c" x="337.410" y="268.127" style="fill: #2845a3; fill-opacity: 0.7; stroke: #ffffff; stroke-opacity: 0.7"/>
    <use href="#C0_0_8627b4304c" x="120.384" y="268.218" style="fill: #2845a3; fill-opacity: 0.7; stroke: #ffffff; stroke-opacity: 0.7"/>
    <use href="#C0_0_8627b4304c" x="230.556" y="268.667" style="fill: #2845a3; fill-opacity: 0.7; stroke: #ffffff; stroke-opacity: 0.7"/>
    <use href="#C0_0_8627b4304c" x="203.701" y="268.763" style="fill: #2845a3; fill-opacity: 0.7; stroke: #ffffff; stroke-opacity: 0.7"/>
    <use href="#C0_0_8627b4304c" x="95.850" y="269.029" style="fill: #2845a3; fill-opacity: 0.7; stroke: #ffffff; stroke-opacity: 0.7"/>
    <use href="#C0_0_8627b4304c" x="178.265" y="269.291" style="fill: #2845a3; fill-opacity: 0.7; stroke: #ffffff; stroke-opacity: 0.7"/>
    <use href="#C0_0_8627b4304c" x="342.511" y="269.616" style="fill: #2845a3; fill-opacity: 0.7; stroke: #ffffff; stroke-opacity: 0.7"/>
    <use href="#C0_0_8627b4304c" x="196.596" y="69.497" style="fill: #b40426; fill-opacity: 0.7; stroke: #ffffff; stroke-opacity: 0.7"/>
    <use href="#C0_0_8627b4304c" x="180.488" y="269.963" style="fill: #2845a3; fill-opacity: 0.7; stroke: #ffffff; stroke-opacity: 0.7"/>
    <use href="#C0_0_8627b4304c" x="170.800" y="69.860" style="fill: #b40426; fill-opacity: 0.7; stroke: #ffffff; stroke-opacity: 0.7"/>
    <use href="#C0_0_8627b4304c" x="100.469" y="270.451" style="fill: #2845a3; fill-opacity: 0.7; stroke: #ffffff; stroke-opacity: 0.7"/>
    <use href="#C0_0_8627b4304c" x="100.469" y="270.451" style="fill: #2845a3; fill-opacity: 0.7; stroke: #ffffff; stroke-opacity: 0.7"/>
    <use href="#C0_0_8627b4304c" x="210.009" y="270.660" style="fill: #2845a3; fill-opacity: 0.7; stroke: #ffffff; stroke-opacity: 0.7"/>
    <use href="#C0_0_8627b4304c" x="238.200" y="270.952" style="fill: #2845a3; fill-opacity: 0.7; stroke: #ffffff; stroke-opacity: 0.7"/>
    <use href="#C0_0_8627b4304c" x="175.671" y="71.123" style="fill: #b40426; fill-opacity: 0.7; stroke: #ffffff; stroke-opacity: 0.7"/>
    <use href="#C0_0_8627b4304c" x="240.860" y="271.747" style="fill: #2845a3; fill-opacity: 0.7; stroke: #ffffff; stroke-opacity: 0.7"/>
    <use href="#C0_0_8627b4304c" x="177.810" y="71.678" style="fill: #b40426; fill-opacity: 0.7; stroke: #ffffff; stroke-opacity: 0.7"/>
    <use href="#C0_0_8627b4304c" x="180.238" y="72.307" style="fill: #b40426; fill-opacity: 0.7; stroke: #ffffff; stroke-opacity: 0.7"/>
    <use href="#C0_0_8627b4304c" x="246.159" y="273.332" style="fill: #2845a3; fill-opacity: 0.7; stroke: #ffffff; stroke-opacity: 0.7"/>
    <use href="#C0_0_8627b4304c" x="154.887" y="72.805" style="fill: #b40426; fill-opacity: 0.7; stroke: #ffffff; stroke-opacity: 0.7"/>
    <use href="#C0_0_8627b4304c" x="154.887" y="72.805" style="fill: #b40426; fill-opacity: 0.7; stroke: #ffffff; stroke-opacity: 0.7"/>
    <use href="#C0_0_8627b4304c" x="329.332" y="273.734" style="fill: #2845a3; fill-opacity: 0.7; stroke: #ffffff; stroke-opacity: 0.7"/>
    <use href="#C0_0_8627b4304c" x="85.553" y="274.261" style="fill: #2845a3; fill-opacity: 0.7; stroke: #ffffff; stroke-opacity: 0.7"/>
    <use href="#C0_0_8627b4304c" x="133.052" y="74.233" style="fill: #b40426; fill-opacity: 0.7; stroke: #ffffff; stroke-opacity: 0.7"/>
    <use href="#C0_0_8627b4304c" x="198.493" y="275.410" style="fill: #2845a3; fill-opacity: 0.7; stroke: #ffffff; stroke-opacity: 0.7"/>
    <use href="#C0_0_8627b4304c" x="281.601" y="275.761" style="fill: #2845a3; fill-opacity: 0.7; stroke: #ffffff; stroke-opacity: 0.7"/>
    <use href="#C0_0_8627b4304c" x="189.572" y="74.728" style="fill: #b40426; fill-opacity: 0.7; stroke: #ffffff; stroke-opacity: 0.7"/>
    <use href="#C0_0_8627b4304c" x="189.572" y="74.728" style="fill: #b40426; fill-opacity: 0.7; stroke: #ffffff; stroke-opacity: 0.7"/>
    <use href="#C0_0_8627b4304c" x="309.234" y="275.855" style="fill: #2845a3; fill-opacity: 0.7; stroke: #ffffff; stroke-opacity: 0.7"/>
    <use href="#C0_0_8627b4304c" x="162.974" y="74.916" style="fill: #b40426; fill-opacity: 0.7; stroke: #ffffff; stroke-opacity: 0.7"/>
    <use href="#C0_0_8627b4304c" x="201.139" y="276.210" style="fill: #2845a3; fill-opacity: 0.7; stroke: #ffffff; stroke-opacity: 0.7"/>
    <use href="#C0_0_8627b4304c" x="92.201" y="276.321" style="fill: #2845a3; fill-opacity: 0.7; stroke: #ffffff; stroke-opacity: 0.7"/>
    <use href="#C0_0_8627b4304c" x="229.905" y="276.643" style="fill: #2845a3; fill-opacity: 0.7; stroke: #ffffff; stroke-opacity: 0.7"/>
    <use href="#C0_0_8627b4304c" x="257.785" y="276.807" style="fill: #2845a3; fill-opacity: 0.7; stroke: #ffffff; stroke-opacity: 0.7"/>
    <use href="#C0_0_8627b4304c" x="312.563" y="276.838" style="fill: #2845a3; fill-opacity: 0.7; stroke: #ffffff; stroke-opacity: 0.7"/>
    <use href="#C0_0_8627b4304c" x="285.907" y="277.041" style="fill: #2845a3; fill-opacity: 0.7; stroke: #ffffff; stroke-opacity: 0.7"/>
    <use href="#C0_0_8627b4304c" x="94.618" y="277.070" style="fill: #2845a3; fill-opacity: 0.7; stroke: #ffffff; stroke-opacity: 0.7"/>
    <use href="#C0_0_8627b4304c" x="204.017" y="277.081" style="fill: #2845a3; fill-opacity: 0.7; stroke: #ffffff; stroke-opacity: 0.7"/>
    <use href="#C0_0_8627b4304c" x="150.001" y="277.284" style="fill: #2845a3; fill-opacity: 0.7; stroke: #ffffff; stroke-opacity: 0.7"/>
    <use href="#C0_0_8627b4304c" x="150.001" y="277.284" style="fill: #2845a3; fill-opacity: 0.7; stroke: #ffffff; stroke-opacity: 0.7"/>
    <use href="#C0_0_8627b4304c" x="123.199" y="277.452" style="fill: #2845a3; fill-opacity: 0.7; stroke: #ffffff; stroke-opacity: 0.7"/>
    <use href="#C0_0_8627b4304c" x="316.458" y="277.989" style="fill: #2845a3; fill-opacity: 0.7; stroke: #ffffff; stroke-opacity: 0.7"/>
    <use href="#C0_0_8627b4304c" x="97.657" y="278.012" style="fill: #2845a3; fill-opacity: 0.7; stroke: #ffffff; stroke-opacity: 0.7"/>
    <use href="#C0_0_8627b4304c" x="224.283" y="76.634" style="fill: #b40426; fill-opacity: 0.7; stroke: #ffffff; stroke-opacity: 0.7"/>
    <use href="#C0_0_8627b4304c" x="235.559" y="278.344" style="fill: #2845a3; fill-opacity: 0.7; stroke: #ffffff; stroke-opacity: 0.7"/>
    <use href="#C0_0_8627b4304c" x="208.314" y="278.380" style="fill: #2845a3; fill-opacity: 0.7; stroke: #ffffff; stroke-opacity: 0.7"/>
    <use href="#C0_0_8627b4304c" x="182.186" y="278.757" style="fill: #2845a3; fill-opacity: 0.7; stroke: #ffffff; stroke-opacity: 0.7"/>
    <use href="#C0_0_8627b4304c" x="228.949" y="77.837" style="fill: #b40426; fill-opacity: 0.7; stroke: #ffffff; stroke-opacity: 0.7"/>
    <use href="#C0_0_8627b4304c" x="184.513" y="279.465" style="fill: #2845a3; fill-opacity: 0.7; stroke: #ffffff; stroke-opacity: 0.7"/>
    <use href="#C0_0_8627b4304c" x="157.273" y="279.511" style="fill: #2845a3; fill-opacity: 0.7; stroke: #ffffff; stroke-opacity: 0.7"/>
    <use href="#C0_0_8627b4304c" x="202.317" y="78.033" style="fill: #b40426; fill-opacity: 0.7; stroke: #ffffff; stroke-opacity: 0.7"/>
    <use href="#C0_0_8627b4304c" x="295.219" y="279.808" style="fill: #2845a3; fill-opacity: 0.7; stroke: #ffffff; stroke-opacity: 0.7"/>
    <use href="#C0_0_8627b4304c" x="132.674" y="280.370" style="fill: #2845a3; fill-opacity: 0.7; stroke: #ffffff; stroke-opacity: 0.7"/>
    <use href="#C0_0_8627b4304c" x="149.996" y="78.680" style="fill: #b40426; fill-opacity: 0.7; stroke: #ffffff; stroke-opacity: 0.7"/>
    <use href="#C0_0_8627b4304c" x="177.857" y="78.798" style="fill: #b40426; fill-opacity: 0.7; stroke: #ffffff; stroke-opacity: 0.7"/>
    <use href="#C0_0_8627b4304c" x="233.508" y="79.013" style="fill: #b40426; fill-opacity: 0.7; stroke: #ffffff; stroke-opacity: 0.7"/>
    <use href="#C0_0_8627b4304c" x="134.778" y="281.018" style="fill: #2845a3; fill-opacity: 0.7; stroke: #ffffff; stroke-opacity: 0.7"/>
    <use href="#C0_0_8627b4304c" x="181.305" y="79.698" style="fill: #b40426; fill-opacity: 0.7; stroke: #ffffff; stroke-opacity: 0.7"/>
    <use href="#C0_0_8627b4304c" x="328.893" y="281.664" style="fill: #2845a3; fill-opacity: 0.7; stroke: #ffffff; stroke-opacity: 0.7"/>
    <use href="#C0_0_8627b4304c" x="220.902" y="282.188" style="fill: #2845a3; fill-opacity: 0.7; stroke: #ffffff; stroke-opacity: 0.7"/>
    <use href="#C0_0_8627b4304c" x="333.677" y="283.077" style="fill: #2845a3; fill-opacity: 0.7; stroke: #ffffff; stroke-opacity: 0.7"/>
    <use href="#C0_0_8627b4304c" x="116.235" y="283.768" style="fill: #2845a3; fill-opacity: 0.7; stroke: #ffffff; stroke-opacity: 0.7"/>
    <use href="#C0_0_8627b4304c" x="226.655" y="283.928" style="fill: #2845a3; fill-opacity: 0.7; stroke: #ffffff; stroke-opacity: 0.7"/>
    <use href="#C0_0_8627b4304c" x="281.713" y="283.960" style="fill: #2845a3; fill-opacity: 0.7; stroke: #ffffff; stroke-opacity: 0.7"/>
    <use href="#C0_0_8627b4304c" x="255.354" y="284.296" style="fill: #2845a3; fill-opacity: 0.7; stroke: #ffffff; stroke-opacity: 0.7"/>
    <use href="#C0_0_8627b4304c" x="174.447" y="284.768" style="fill: #2845a3; fill-opacity: 0.7; stroke: #ffffff; stroke-opacity: 0.7"/>
    <use href="#C0_0_8627b4304c" x="257.668" y="284.992" style="fill: #2845a3; fill-opacity: 0.7; stroke: #ffffff; stroke-opacity: 0.7"/>
    <use href="#C0_0_8627b4304c" x="93.429" y="285.223" style="fill: #2845a3; fill-opacity: 0.7; stroke: #ffffff; stroke-opacity: 0.7"/>
    <use href="#C0_0_8627b4304c" x="165.832" y="82.837" style="fill: #b40426; fill-opacity: 0.7; stroke: #ffffff; stroke-opacity: 0.7"/>
    <use href="#C0_0_8627b4304c" x="314.074" y="285.412" style="fill: #2845a3; fill-opacity: 0.7; stroke: #ffffff; stroke-opacity: 0.7"/>
    <use href="#C0_0_8627b4304c" x="67.282" y="285.648" style="fill: #2845a3; fill-opacity: 0.7; stroke: #ffffff; stroke-opacity: 0.7"/>
    <use href="#C0_0_8627b4304c" x="150.023" y="285.714" style="fill: #2845a3; fill-opacity: 0.7; stroke: #ffffff; stroke-opacity: 0.7"/>
    <use href="#C0_0_8627b4304c" x="194.948" y="83.258" style="fill: #b40426; fill-opacity: 0.7; stroke: #ffffff; stroke-opacity: 0.7"/>
    <use href="#C0_0_8627b4304c" x="140.536" y="83.419" style="fill: #b40426; fill-opacity: 0.7; stroke: #ffffff; stroke-opacity: 0.7"/>
    <use href="#C0_0_8627b4304c" x="123.942" y="286.157" style="fill: #2845a3; fill-opacity: 0.7; stroke: #ffffff; stroke-opacity: 0.7"/>
    <use href="#C0_0_8627b4304c" x="234.610" y="286.335" style="fill: #2845a3; fill-opacity: 0.7; stroke: #ffffff; stroke-opacity: 0.7"/>
    <use href="#C0_0_8627b4304c" x="169.254" y="83.735" style="fill: #b40426; fill-opacity: 0.7; stroke: #ffffff; stroke-opacity: 0.7"/>
    <use href="#C0_0_8627b4304c" x="224.697" y="83.838" style="fill: #b40426; fill-opacity: 0.7; stroke: #ffffff; stroke-opacity: 0.7"/>
    <use href="#C0_0_8627b4304c" x="197.235" y="83.854" style="fill: #b40426; fill-opacity: 0.7; stroke: #ffffff; stroke-opacity: 0.7"/>
    <use href="#C0_0_8627b4304c" x="197.235" y="83.854" style="fill: #b40426; fill-opacity: 0.7; stroke: #ffffff; stroke-opacity: 0.7"/>
    <use href="#C0_0_8627b4304c" x="180.730" y="286.692" style="fill: #2845a3; fill-opacity: 0.7; stroke: #ffffff; stroke-opacity: 0.7"/>
    <use href="#C0_0_8627b4304c" x="180.730" y="286.692" style="fill: #2845a3; fill-opacity: 0.7; stroke: #ffffff; stroke-opacity: 0.7"/>
    <use href="#C0_0_8627b4304c" x="70.885" y="286.778" style="fill: #2845a3; fill-opacity: 0.7; stroke: #ffffff; stroke-opacity: 0.7"/>
    <use href="#C0_0_8627b4304c" x="126.365" y="286.907" style="fill: #2845a3; fill-opacity: 0.7; stroke: #ffffff; stroke-opacity: 0.7"/>
    <use href="#C0_0_8627b4304c" x="265.183" y="287.252" style="fill: #2845a3; fill-opacity: 0.7; stroke: #ffffff; stroke-opacity: 0.7"/>
    <use href="#C0_0_8627b4304c" x="210.636" y="287.415" style="fill: #2845a3; fill-opacity: 0.7; stroke: #ffffff; stroke-opacity: 0.7"/>
    <use href="#C0_0_8627b4304c" x="129.076" y="287.747" style="fill: #2845a3; fill-opacity: 0.7; stroke: #ffffff; stroke-opacity: 0.7"/>
    <use href="#C0_0_8627b4304c" x="103.007" y="288.209" style="fill: #2845a3; fill-opacity: 0.7; stroke: #ffffff; stroke-opacity: 0.7"/>
    <use href="#C0_0_8627b4304c" x="175.508" y="85.376" style="fill: #b40426; fill-opacity: 0.7; stroke: #ffffff; stroke-opacity: 0.7"/>
    <use href="#C0_0_8627b4304c" x="131.933" y="288.633" style="fill: #2845a3; fill-opacity: 0.7; stroke: #ffffff; stroke-opacity: 0.7"/>
    <use href="#C0_0_8627b4304c" x="151.311" y="86.264" style="fill: #b40426; fill-opacity: 0.7; stroke: #ffffff; stroke-opacity: 0.7"/>
    <use href="#C0_0_8627b4304c" x="217.038" y="289.363" style="fill: #2845a3; fill-opacity: 0.7; stroke: #ffffff; stroke-opacity: 0.7"/>
    <use href="#C0_0_8627b4304c" x="235.705" y="86.693" style="fill: #b40426; fill-opacity: 0.7; stroke: #ffffff; stroke-opacity: 0.7"/>
    <use href="#C0_0_8627b4304c" x="191.200" y="289.897" style="fill: #2845a3; fill-opacity: 0.7; stroke: #ffffff; stroke-opacity: 0.7"/>
    <use href="#C0_0_8627b4304c" x="108.666" y="289.974" style="fill: #2845a3; fill-opacity: 0.7; stroke: #ffffff; stroke-opacity: 0.7"/>
    <use href="#C0_0_8627b4304c" x="153.582" y="86.864" style="fill: #b40426; fill-opacity: 0.7; stroke: #ffffff; stroke-opacity: 0.7"/>
    <use href="#C0_0_8627b4304c" x="219.575" y="290.135" style="fill: #2845a3; fill-opacity: 0.7; stroke: #ffffff; stroke-opacity: 0.7"/>
    <use href="#C0_0_8627b4304c" x="303.212" y="290.387" style="fill: #2845a3; fill-opacity: 0.7; stroke: #ffffff; stroke-opacity: 0.7"/>
    <use href="#C0_0_8627b4304c" x="303.212" y="290.387" style="fill: #2845a3; fill-opacity: 0.7; stroke: #ffffff; stroke-opacity: 0.7"/>
    <use href="#C0_0_8627b4304c" x="84.588" y="291.077" style="fill: #2845a3; fill-opacity: 0.7; stroke: #ffffff; stroke-opacity: 0.7"/>
    <use href="#C0_0_8627b4304c" x="157.150" y="87.806" style="fill: #b40426; fill-opacity: 0.7; stroke: #ffffff; stroke-opacity: 0.7"/>
    <use href="#C0_0_8627b4304c" x="57.288" y="291.176" style="fill: #2845a3; fill-opacity: 0.7; stroke: #ffffff; stroke-opacity: 0.7"/>
    <use href="#C0_0_8627b4304c" x="167.968" y="291.241" style="fill: #2845a3; fill-opacity: 0.7; stroke: #ffffff; stroke-opacity: 0.7"/>
    <use href="#C0_0_8627b4304c" x="242.124" y="88.357" style="fill: #b40426; fill-opacity: 0.7; stroke: #ffffff; stroke-opacity: 0.7"/>
    <use href="#C0_0_8627b4304c" x="198.023" y="291.986" style="fill: #2845a3; fill-opacity: 0.7; stroke: #ffffff; stroke-opacity: 0.7"/>
    <use href="#C0_0_8627b4304c" x="281.322" y="292.105" style="fill: #2845a3; fill-opacity: 0.7; stroke: #ffffff; stroke-opacity: 0.7"/>
    <use href="#C0_0_8627b4304c" x="226.207" y="292.153" style="fill: #2845a3; fill-opacity: 0.7; stroke: #ffffff; stroke-opacity: 0.7"/>
    <use href="#C0_0_8627b4304c" x="60.473" y="292.182" style="fill: #2845a3; fill-opacity: 0.7; stroke: #ffffff; stroke-opacity: 0.7"/>
    <use href="#C0_0_8627b4304c" x="162.715" y="89.276" style="fill: #b40426; fill-opacity: 0.7; stroke: #ffffff; stroke-opacity: 0.7"/>
    <use href="#C0_0_8627b4304c" x="248.531" y="90.019" style="fill: #b40426; fill-opacity: 0.7; stroke: #ffffff; stroke-opacity: 0.7"/>
    <use href="#C0_0_8627b4304c" x="65.811" y="293.867" style="fill: #2845a3; fill-opacity: 0.7; stroke: #ffffff; stroke-opacity: 0.7"/>
    <use href="#C0_0_8627b4304c" x="232.712" y="294.133" style="fill: #2845a3; fill-opacity: 0.7; stroke: #ffffff; stroke-opacity: 0.7"/>
    <use href="#C0_0_8627b4304c" x="232.712" y="294.133" style="fill: #2845a3; fill-opacity: 0.7; stroke: #ffffff; stroke-opacity: 0.7"/>
    <use href="#C0_0_8627b4304c" x="194.663" y="90.404" style="fill: #b40426; fill-opacity: 0.7; stroke: #ffffff; stroke-opacity: 0.7"/>
    <use href="#C0_0_8627b4304c" x="123.376" y="294.560" style="fill: #2845a3; fill-opacity: 0.7; stroke: #ffffff; stroke-opacity: 0.7"/>
    <use href="#C0_0_8627b4304c" x="123.376" y="294.560" style="fill: #2845a3; fill-opacity: 0.7; stroke: #ffffff; stroke-opacity: 0.7"/>
    <use href="#C0_0_8627b4304c" x="251.860" y="90.882" style="fill: #b40426; fill-opacity: 0.7; stroke: #ffffff; stroke-opacity: 0.7"/>
    <use href="#C0_0_8627b4304c" x="224.442" y="90.952" style="fill: #b40426; fill-opacity: 0.7; stroke: #ffffff; stroke-opacity: 0.7"/>
    <use href="#C0_0_8627b4304c" x="196.934" y="91.000" style="fill: #b40426; fill-opacity: 0.7; stroke: #ffffff; stroke-opacity: 0.7"/>
    <use href="#C0_0_8627b4304c" x="254.691" y="91.616" style="fill: #b40426; fill-opacity: 0.7; stroke: #ffffff; stroke-opacity: 0.7"/>
    <use href="#C0_0_8627b4304c" x="227.550" y="91.763" style="fill: #b40426; fill-opacity: 0.7; stroke: #ffffff; stroke-opacity: 0.7"/>
    <use href="#C0_0_8627b4304c" x="155.297" y="295.873" style="fill: #2845a3; fill-opacity: 0.7; stroke: #ffffff; stroke-opacity: 0.7"/>
    <use href="#C0_0_8627b4304c" x="100.573" y="296.091" style="fill: #2845a3; fill-opacity: 0.7; stroke: #ffffff; stroke-opacity: 0.7"/>
    <use href="#C0_0_8627b4304c" x="146.232" y="92.243" style="fill: #b40426; fill-opacity: 0.7; stroke: #ffffff; stroke-opacity: 0.7"/>
    <use href="#C0_0_8627b4304c" x="230.075" y="92.422" style="fill: #b40426; fill-opacity: 0.7; stroke: #ffffff; stroke-opacity: 0.7"/>
    <use href="#C0_0_8627b4304c" x="213.018" y="296.576" style="fill: #2845a3; fill-opacity: 0.7; stroke: #ffffff; stroke-opacity: 0.7"/>
    <use href="#C0_0_8627b4304c" x="296.381" y="296.634" style="fill: #2845a3; fill-opacity: 0.7; stroke: #ffffff; stroke-opacity: 0.7"/>
    <use href="#C0_0_8627b4304c" x="74.992" y="296.765" style="fill: #2845a3; fill-opacity: 0.7; stroke: #ffffff; stroke-opacity: 0.7"/>
    <use href="#C0_0_8627b4304c" x="286.936" y="92.787" style="fill: #b40426; fill-opacity: 0.7; stroke: #ffffff; stroke-opacity: 0.7"/>
    <use href="#C0_0_8627b4304c" x="121.416" y="93.018" style="fill: #b40426; fill-opacity: 0.7; stroke: #ffffff; stroke-opacity: 0.7"/>
    <use href="#C0_0_8627b4304c" x="298.796" y="297.360" style="fill: #2845a3; fill-opacity: 0.7; stroke: #ffffff; stroke-opacity: 0.7"/>
    <use href="#C0_0_8627b4304c" x="160.879" y="297.602" style="fill: #2845a3; fill-opacity: 0.7; stroke: #ffffff; stroke-opacity: 0.7"/>
    <use href="#C0_0_8627b4304c" x="216.415" y="297.617" style="fill: #2845a3; fill-opacity: 0.7; stroke: #ffffff; stroke-opacity: 0.7"/>
    <use href="#C0_0_8627b4304c" x="244.714" y="297.785" style="fill: #2845a3; fill-opacity: 0.7; stroke: #ffffff; stroke-opacity: 0.7"/>
    <use href="#C0_0_8627b4304c" x="78.260" y="297.796" style="fill: #2845a3; fill-opacity: 0.7; stroke: #ffffff; stroke-opacity: 0.7"/>
    <use href="#C0_0_8627b4304c" x="78.260" y="297.796" style="fill: #2845a3; fill-opacity: 0.7; stroke: #ffffff; stroke-opacity: 0.7"/>
    <use href="#C0_0_8627b4304c" x="106.346" y="297.902" style="fill: #2845a3; fill-opacity: 0.7; stroke: #ffffff; stroke-opacity: 0.7"/>
    <use href="#C0_0_8627b4304c" x="273.050" y="297.963" style="fill: #2845a3; fill-opacity: 0.7; stroke: #ffffff; stroke-opacity: 0.7"/>
    <use href="#C0_0_8627b4304c" x="262.791" y="93.717" style="fill: #b40426; fill-opacity: 0.7; stroke: #ffffff; stroke-opacity: 0.7"/>
    <use href="#C0_0_8627b4304c" x="235.074" y="93.726" style="fill: #b40426; fill-opacity: 0.7; stroke: #ffffff; stroke-opacity: 0.7"/>
    <use href="#C0_0_8627b4304c" x="235.074" y="93.726" style="fill: #b40426; fill-opacity: 0.7; stroke: #ffffff; stroke-opacity: 0.7"/>
    <use href="#C0_0_8627b4304c" x="301.363" y="298.132" style="fill: #2845a3; fill-opacity: 0.7; stroke: #ffffff; stroke-opacity: 0.7"/>
    <use href="#C0_0_8627b4304c" x="191.825" y="298.588" style="fill: #2845a3; fill-opacity: 0.7; stroke: #ffffff; stroke-opacity: 0.7"/>
    <use href="#C0_0_8627b4304c" x="153.829" y="94.261" style="fill: #b40426; fill-opacity: 0.7; stroke: #ffffff; stroke-opacity: 0.7"/>
    <use href="#C0_0_8627b4304c" x="164.299" y="298.662" style="fill: #2845a3; fill-opacity: 0.7; stroke: #ffffff; stroke-opacity: 0.7"/>
    <use href="#C0_0_8627b4304c" x="53.911" y="298.876" style="fill: #2845a3; fill-opacity: 0.7; stroke: #ffffff; stroke-opacity: 0.7"/>
    <use href="#C0_0_8627b4304c" x="184.413" y="95.006" style="fill: #b40426; fill-opacity: 0.7; stroke: #ffffff; stroke-opacity: 0.7"/>
    <use href="#C0_0_8627b4304c" x="111.503" y="299.520" style="fill: #2845a3; fill-opacity: 0.7; stroke: #ffffff; stroke-opacity: 0.7"/>
    <use href="#C0_0_8627b4304c" x="250.561" y="299.565" style="fill: #2845a3; fill-opacity: 0.7; stroke: #ffffff; stroke-opacity: 0.7"/>
    <use href="#C0_0_8627b4304c" x="250.561" y="299.565" style="fill: #2845a3; fill-opacity: 0.7; stroke: #ffffff; stroke-opacity: 0.7"/>
    <use href="#C0_0_8627b4304c" x="57.622" y="300.054" style="fill: #2845a3; fill-opacity: 0.7; stroke: #ffffff; stroke-opacity: 0.7"/>
    <use href="#C0_0_8627b4304c" x="85.580" y="300.106" style="fill: #2845a3; fill-opacity: 0.7; stroke: #ffffff; stroke-opacity: 0.7"/>
    <use href="#C0_0_8627b4304c" x="85.580" y="300.106" style="fill: #2845a3; fill-opacity: 0.7; stroke: #ffffff; stroke-opacity: 0.7"/>
    <use href="#C0_0_8627b4304c" x="186.804" y="95.637" style="fill: #b40426; fill-opacity: 0.7; stroke: #ffffff; stroke-opacity: 0.7"/>
    <use href="#C0_0_8627b4304c" x="198.428" y="300.622" style="fill: #2845a3; fill-opacity: 0.7; stroke: #ffffff; stroke-opacity: 0.7"/>
    <use href="#C0_0_8627b4304c" x="309.858" y="300.687" style="fill: #2845a3; fill-opacity: 0.7; stroke: #ffffff; stroke-opacity: 0.7"/>
    <use href="#C0_0_8627b4304c" x="106.041" y="96.343" style="fill: #b40426; fill-opacity: 0.7; stroke: #ffffff; stroke-opacity: 0.7"/>
    <use href="#C0_0_8627b4304c" x="312.527" y="301.489" style="fill: #2845a3; fill-opacity: 0.7; stroke: #ffffff; stroke-opacity: 0.7"/>
    <use href="#C0_0_8627b4304c" x="257.194" y="301.583" style="fill: #2845a3; fill-opacity: 0.7; stroke: #ffffff; stroke-opacity: 0.7"/>
    <use href="#C0_0_8627b4304c" x="218.943" y="96.777" style="fill: #b40426; fill-opacity: 0.7; stroke: #ffffff; stroke-opacity: 0.7"/>
    <use href="#C0_0_8627b4304c" x="174.180" y="301.724" style="fill: #2845a3; fill-opacity: 0.7; stroke: #ffffff; stroke-opacity: 0.7"/>
    <use href="#C0_0_8627b4304c" x="192.033" y="97.018" style="fill: #b40426; fill-opacity: 0.7; stroke: #ffffff; stroke-opacity: 0.7"/>
    <use href="#C0_0_8627b4304c" x="119.145" y="301.917" style="fill: #2845a3; fill-opacity: 0.7; stroke: #ffffff; stroke-opacity: 0.7"/>
    <use href="#C0_0_8627b4304c" x="287.279" y="302.267" style="fill: #2845a3; fill-opacity: 0.7; stroke: #ffffff; stroke-opacity: 0.7"/>
    <use href="#C0_0_8627b4304c" x="137.804" y="97.399" style="fill: #b40426; fill-opacity: 0.7; stroke: #ffffff; stroke-opacity: 0.7"/>
    <use href="#C0_0_8627b4304c" x="221.327" y="97.402" style="fill: #b40426; fill-opacity: 0.7; stroke: #ffffff; stroke-opacity: 0.7"/>
    <use href="#C0_0_8627b4304c" x="149.257" y="302.629" style="fill: #2845a3; fill-opacity: 0.7; stroke: #ffffff; stroke-opacity: 0.7"/>
    <use href="#C0_0_8627b4304c" x="66.884" y="302.996" style="fill: #2845a3; fill-opacity: 0.7; stroke: #ffffff; stroke-opacity: 0.7"/>
    <use href="#C0_0_8627b4304c" x="180.889" y="303.803" style="fill: #2845a3; fill-opacity: 0.7; stroke: #ffffff; stroke-opacity: 0.7"/>
    <use href="#C0_0_8627b4304c" x="153.435" y="303.931" style="fill: #2845a3; fill-opacity: 0.7; stroke: #ffffff; stroke-opacity: 0.7"/>
    <use href="#C0_0_8627b4304c" x="115.150" y="98.793" style="fill: #b40426; fill-opacity: 0.7; stroke: #ffffff; stroke-opacity: 0.7"/>
    <use href="#C0_0_8627b4304c" x="171.460" y="98.945" style="fill: #b40426; fill-opacity: 0.7; stroke: #ffffff; stroke-opacity: 0.7"/>
    <use href="#C0_0_8627b4304c" x="126.294" y="304.159" style="fill: #2845a3; fill-opacity: 0.7; stroke: #ffffff; stroke-opacity: 0.7"/>
    <use href="#C0_0_8627b4304c" x="156.167" y="304.783" style="fill: #2845a3; fill-opacity: 0.7; stroke: #ffffff; stroke-opacity: 0.7"/>
    <use href="#C0_0_8627b4304c" x="117.945" y="99.545" style="fill: #b40426; fill-opacity: 0.7; stroke: #ffffff; stroke-opacity: 0.7"/>
    <use href="#C0_0_8627b4304c" x="100.694" y="304.877" style="fill: #2845a3; fill-opacity: 0.7; stroke: #ffffff; stroke-opacity: 0.7"/>
    <use href="#C0_0_8627b4304c" x="45.527" y="305.071" style="fill: #2845a3; fill-opacity: 0.7; stroke: #ffffff; stroke-opacity: 0.7"/>
    <use href="#C0_0_8627b4304c" x="230.855" y="99.903" style="fill: #b40426; fill-opacity: 0.7; stroke: #ffffff; stroke-opacity: 0.7"/>
    <use href="#C0_0_8627b4304c" x="287.620" y="100.156" style="fill: #b40426; fill-opacity: 0.7; stroke: #ffffff; stroke-opacity: 0.7"/>
    <use href="#C0_0_8627b4304c" x="242.946" y="305.739" style="fill: #2845a3; fill-opacity: 0.7; stroke: #ffffff; stroke-opacity: 0.7"/>
    <use href="#C0_0_8627b4304c" x="261.451" y="100.608" style="fill: #b40426; fill-opacity: 0.7; stroke: #ffffff; stroke-opacity: 0.7"/>
    <use href="#C0_0_8627b4304c" x="77.385" y="306.331" style="fill: #2845a3; fill-opacity: 0.7; stroke: #ffffff; stroke-opacity: 0.7"/>
    <use href="#C0_0_8627b4304c" x="178.936" y="100.931" style="fill: #b40426; fill-opacity: 0.7; stroke: #ffffff; stroke-opacity: 0.7"/>
    <use href="#C0_0_8627b4304c" x="263.268" y="101.082" style="fill: #b40426; fill-opacity: 0.7; stroke: #ffffff; stroke-opacity: 0.7"/>
    <use href="#C0_0_8627b4304c" x="292.083" y="101.314" style="fill: #b40426; fill-opacity: 0.7; stroke: #ffffff; stroke-opacity: 0.7"/>
    <use href="#C0_0_8627b4304c" x="320.668" y="101.484" style="fill: #b40426; fill-opacity: 0.7; stroke: #ffffff; stroke-opacity: 0.7"/>
    <use href="#C0_0_8627b4304c" x="80.304" y="307.258" style="fill: #2845a3; fill-opacity: 0.7; stroke: #ffffff; stroke-opacity: 0.7"/>
    <use href="#C0_0_8627b4304c" x="265.653" y="101.704" style="fill: #b40426; fill-opacity: 0.7; stroke: #ffffff; stroke-opacity: 0.7"/>
    <use href="#C0_0_8627b4304c" x="265.653" y="101.704" style="fill: #b40426; fill-opacity: 0.7; stroke: #ffffff; stroke-opacity: 0.7"/>
    <use href="#C0_0_8627b4304c" x="109.991" y="307.811" style="fill: #2845a3; fill-opacity: 0.7; stroke: #ffffff; stroke-opacity: 0.7"/>
    <use href="#C0_0_8627b4304c" x="295.624" y="102.232" style="fill: #b40426; fill-opacity: 0.7; stroke: #ffffff; stroke-opacity: 0.7"/>
    <use href="#C0_0_8627b4304c" x="306.286" y="308.017" style="fill: #2845a3; fill-opacity: 0.7; stroke: #ffffff; stroke-opacity: 0.7"/>
    <use href="#C0_0_8627b4304c" x="222.841" y="308.141" style="fill: #2845a3; fill-opacity: 0.7; stroke: #ffffff; stroke-opacity: 0.7"/>
    <use href="#C0_0_8627b4304c" x="279.570" y="308.392" style="fill: #2845a3; fill-opacity: 0.7; stroke: #ffffff; stroke-opacity: 0.7"/>
    <use href="#C0_0_8627b4304c" x="102.996" y="103.046" style="fill: #b40426; fill-opacity: 0.7; stroke: #ffffff; stroke-opacity: 0.7"/>
    <use href="#C0_0_8627b4304c" x="131.391" y="103.161" style="fill: #b40426; fill-opacity: 0.7; stroke: #ffffff; stroke-opacity: 0.7"/>
    <use href="#C0_0_8627b4304c" x="282.236" y="309.204" style="fill: #2845a3; fill-opacity: 0.7; stroke: #ffffff; stroke-opacity: 0.7"/>
    <use href="#C0_0_8627b4304c" x="282.236" y="309.204" style="fill: #2845a3; fill-opacity: 0.7; stroke: #ffffff; stroke-opacity: 0.7"/>
    <use href="#C0_0_8627b4304c" x="244.315" y="103.436" style="fill: #b40426; fill-opacity: 0.7; stroke: #ffffff; stroke-opacity: 0.7"/>
    <use href="#C0_0_8627b4304c" x="160.552" y="103.480" style="fill: #b40426; fill-opacity: 0.7; stroke: #ffffff; stroke-opacity: 0.7"/>
    <use href="#C0_0_8627b4304c" x="189.198" y="103.658" style="fill: #b40426; fill-opacity: 0.7; stroke: #ffffff; stroke-opacity: 0.7"/>
    <use href="#C0_0_8627b4304c" x="329.677" y="103.806" style="fill: #b40426; fill-opacity: 0.7; stroke: #ffffff; stroke-opacity: 0.7"/>
    <use href="#C0_0_8627b4304c" x="173.268" y="310.114" style="fill: #2845a3; fill-opacity: 0.7; stroke: #ffffff; stroke-opacity: 0.7"/>
    <use href="#C0_0_8627b4304c" x="89.602" y="310.211" style="fill: #2845a3; fill-opacity: 0.7; stroke: #ffffff; stroke-opacity: 0.7"/>
    <use href="#C0_0_8627b4304c" x="146.769" y="310.582" style="fill: #2845a3; fill-opacity: 0.7; stroke: #ffffff; stroke-opacity: 0.7"/>
    <use href="#C0_0_8627b4304c" x="146.769" y="310.582" style="fill: #2845a3; fill-opacity: 0.7; stroke: #ffffff; stroke-opacity: 0.7"/>
    <use href="#C0_0_8627b4304c" x="136.647" y="104.575" style="fill: #b40426; fill-opacity: 0.7; stroke: #ffffff; stroke-opacity: 0.7"/>
    <use href="#C0_0_8627b4304c" x="175.466" y="310.800" style="fill: #2845a3; fill-opacity: 0.7; stroke: #ffffff; stroke-opacity: 0.7"/>
    <use href="#C0_0_8627b4304c" x="120.166" y="311.023" style="fill: #2845a3; fill-opacity: 0.7; stroke: #ffffff; stroke-opacity: 0.7"/>
    <use href="#C0_0_8627b4304c" x="204.379" y="311.081" style="fill: #2845a3; fill-opacity: 0.7; stroke: #ffffff; stroke-opacity: 0.7"/>
    <use href="#C0_0_8627b4304c" x="93.114" y="311.326" style="fill: #2845a3; fill-opacity: 0.7; stroke: #ffffff; stroke-opacity: 0.7"/>
    <use href="#C0_0_8627b4304c" x="139.294" y="105.287" style="fill: #b40426; fill-opacity: 0.7; stroke: #ffffff; stroke-opacity: 0.7"/>
    <use href="#C0_0_8627b4304c" x="262.238" y="311.645" style="fill: #2845a3; fill-opacity: 0.7; stroke: #ffffff; stroke-opacity: 0.7"/>
    <use href="#C0_0_8627b4304c" x="122.572" y="311.782" style="fill: #2845a3; fill-opacity: 0.7; stroke: #ffffff; stroke-opacity: 0.7"/>
    <use href="#C0_0_8627b4304c" x="207.243" y="311.969" style="fill: #2845a3; fill-opacity: 0.7; stroke: #ffffff; stroke-opacity: 0.7"/>
    <use href="#C0_0_8627b4304c" x="337.352" y="105.785" style="fill: #b40426; fill-opacity: 0.7; stroke: #ffffff; stroke-opacity: 0.7"/>
    <use href="#C0_0_8627b4304c" x="236.156" y="312.242" style="fill: #2845a3; fill-opacity: 0.7; stroke: #ffffff; stroke-opacity: 0.7"/>
    <use href="#C0_0_8627b4304c" x="281.996" y="105.968" style="fill: #b40426; fill-opacity: 0.7; stroke: #ffffff; stroke-opacity: 0.7"/>
    <use href="#C0_0_8627b4304c" x="96.804" y="312.498" style="fill: #2845a3; fill-opacity: 0.7; stroke: #ffffff; stroke-opacity: 0.7"/>
    <use href="#C0_0_8627b4304c" x="293.261" y="312.559" style="fill: #2845a3; fill-opacity: 0.7; stroke: #ffffff; stroke-opacity: 0.7"/>
    <use href="#C0_0_8627b4304c" x="266.517" y="312.955" style="fill: #2845a3; fill-opacity: 0.7; stroke: #ffffff; stroke-opacity: 0.7"/>
    <use href="#C0_0_8627b4304c" x="238.923" y="313.094" style="fill: #2845a3; fill-opacity: 0.7; stroke: #ffffff; stroke-opacity: 0.7"/>
    <use href="#C0_0_8627b4304c" x="173.523" y="106.947" style="fill: #b40426; fill-opacity: 0.7; stroke: #ffffff; stroke-opacity: 0.7"/>
    <use href="#C0_0_8627b4304c" x="341.945" y="106.969" style="fill: #b40426; fill-opacity: 0.7; stroke: #ffffff; stroke-opacity: 0.7"/>
    <use href="#C0_0_8627b4304c" x="297.662" y="313.898" style="fill: #2845a3; fill-opacity: 0.7; stroke: #ffffff; stroke-opacity: 0.7"/>
    <use href="#C0_0_8627b4304c" x="315.257" y="107.324" style="fill: #b40426; fill-opacity: 0.7; stroke: #ffffff; stroke-opacity: 0.7"/>
    <use href="#C0_0_8627b4304c" x="231.645" y="107.478" style="fill: #b40426; fill-opacity: 0.7; stroke: #ffffff; stroke-opacity: 0.7"/>
    <use href="#C0_0_8627b4304c" x="204.174" y="107.636" style="fill: #b40426; fill-opacity: 0.7; stroke: #ffffff; stroke-opacity: 0.7"/>
    <use href="#C0_0_8627b4304c" x="120.237" y="107.712" style="fill: #b40426; fill-opacity: 0.7; stroke: #ffffff; stroke-opacity: 0.7"/>
    <use href="#C0_0_8627b4304c" x="289.728" y="107.986" style="fill: #b40426; fill-opacity: 0.7; stroke: #ffffff; stroke-opacity: 0.7"/>
    <use href="#C0_0_8627b4304c" x="346.394" y="108.116" style="fill: #b40426; fill-opacity: 0.7; stroke: #ffffff; stroke-opacity: 0.7"/>
    <use href="#C0_0_8627b4304c" x="188.610" y="314.897" style="fill: #2845a3; fill-opacity: 0.7; stroke: #ffffff; stroke-opacity: 0.7"/>
    <use href="#C0_0_8627b4304c" x="318.924" y="108.275" style="fill: #b40426; fill-opacity: 0.7; stroke: #ffffff; stroke-opacity: 0.7"/>
    <use href="#C0_0_8627b4304c" x="217.134" y="315.034" style="fill: #2845a3; fill-opacity: 0.7; stroke: #ffffff; stroke-opacity: 0.7"/>
    <use href="#C0_0_8627b4304c" x="234.831" y="108.319" style="fill: #b40426; fill-opacity: 0.7; stroke: #ffffff; stroke-opacity: 0.7"/>
    <use href="#C0_0_8627b4304c" x="207.015" y="108.391" style="fill: #b40426; fill-opacity: 0.7; stroke: #ffffff; stroke-opacity: 0.7"/>
    <use href="#C0_0_8627b4304c" x="161.441" y="315.184" style="fill: #2845a3; fill-opacity: 0.7; stroke: #ffffff; stroke-opacity: 0.7"/>
    <use href="#C0_0_8627b4304c" x="245.842" y="315.225" style="fill: #2845a3; fill-opacity: 0.7; stroke: #ffffff; stroke-opacity: 0.7"/>
    <use href="#C0_0_8627b4304c" x="105.447" y="315.243" style="fill: #2845a3; fill-opacity: 0.7; stroke: #ffffff; stroke-opacity: 0.7"/>
    <use href="#C0_0_8627b4304c" x="264.172" y="108.648" style="fill: #b40426; fill-opacity: 0.7; stroke: #ffffff; stroke-opacity: 0.7"/>
    <use href="#C0_0_8627b4304c" x="50.077" y="315.504" style="fill: #2845a3; fill-opacity: 0.7; stroke: #ffffff; stroke-opacity: 0.7"/>
    <use href="#C0_0_8627b4304c" x="134.581" y="315.573" style="fill: #2845a3; fill-opacity: 0.7; stroke: #ffffff; stroke-opacity: 0.7"/>
    <use href="#C0_0_8627b4304c" x="293.377" y="108.938" style="fill: #b40426; fill-opacity: 0.7; stroke: #ffffff; stroke-opacity: 0.7"/>
    <use href="#C0_0_8627b4304c" x="219.776" y="315.852" style="fill: #2845a3; fill-opacity: 0.7; stroke: #ffffff; stroke-opacity: 0.7"/>
    <use href="#C0_0_8627b4304c" x="163.876" y="315.948" style="fill: #2845a3; fill-opacity: 0.7; stroke: #ffffff; stroke-opacity: 0.7"/>
    <use href="#C0_0_8627b4304c" x="248.501" y="316.044" style="fill: #2845a3; fill-opacity: 0.7; stroke: #ffffff; stroke-opacity: 0.7"/>
    <use href="#C0_0_8627b4304c" x="238.587" y="109.311" style="fill: #b40426; fill-opacity: 0.7; stroke: #ffffff; stroke-opacity: 0.7"/>
    <use href="#C0_0_8627b4304c" x="277.865" y="316.429" style="fill: #2845a3; fill-opacity: 0.7; stroke: #ffffff; stroke-opacity: 0.7"/>
    <use href="#C0_0_8627b4304c" x="277.865" y="316.429" style="fill: #2845a3; fill-opacity: 0.7; stroke: #ffffff; stroke-opacity: 0.7"/>
    <use href="#C0_0_8627b4304c" x="193.895" y="316.545" style="fill: #2845a3; fill-opacity: 0.7; stroke: #ffffff; stroke-opacity: 0.7"/>
    <use href="#C0_0_8627b4304c" x="55.520" y="317.255" style="fill: #2845a3; fill-opacity: 0.7; stroke: #ffffff; stroke-opacity: 0.7"/>
    <use href="#C0_0_8627b4304c" x="168.224" y="317.312" style="fill: #2845a3; fill-opacity: 0.7; stroke: #ffffff; stroke-opacity: 0.7"/>
    <use href="#C0_0_8627b4304c" x="101.481" y="110.249" style="fill: #b40426; fill-opacity: 0.7; stroke: #ffffff; stroke-opacity: 0.7"/>
    <use href="#C0_0_8627b4304c" x="355.073" y="110.354" style="fill: #b40426; fill-opacity: 0.7; stroke: #ffffff; stroke-opacity: 0.7"/>
    <use href="#C0_0_8627b4304c" x="186.361" y="110.379" style="fill: #b40426; fill-opacity: 0.7; stroke: #ffffff; stroke-opacity: 0.7"/>
    <use href="#C0_0_8627b4304c" x="197.060" y="317.532" style="fill: #2845a3; fill-opacity: 0.7; stroke: #ffffff; stroke-opacity: 0.7"/>
    <use href="#C0_0_8627b4304c" x="327.797" y="110.576" style="fill: #b40426; fill-opacity: 0.7; stroke: #ffffff; stroke-opacity: 0.7"/>
    <use href="#C0_0_8627b4304c" x="327.797" y="110.576" style="fill: #b40426; fill-opacity: 0.7; stroke: #ffffff; stroke-opacity: 0.7"/>
    <use href="#C0_0_8627b4304c" x="113.396" y="317.768" style="fill: #2845a3; fill-opacity: 0.7; stroke: #ffffff; stroke-opacity: 0.7"/>
    <use href="#C0_0_8627b4304c" x="170.755" y="318.106" style="fill: #2845a3; fill-opacity: 0.7; stroke: #ffffff; stroke-opacity: 0.7"/>
    <use href="#C0_0_8627b4304c" x="216.868" y="111.009" style="fill: #b40426; fill-opacity: 0.7; stroke: #ffffff; stroke-opacity: 0.7"/>
    <use href="#C0_0_8627b4304c" x="357.922" y="111.088" style="fill: #b40426; fill-opacity: 0.7; stroke: #ffffff; stroke-opacity: 0.7"/>
    <use href="#C0_0_8627b4304c" x="87.169" y="318.379" style="fill: #2845a3; fill-opacity: 0.7; stroke: #ffffff; stroke-opacity: 0.7"/>
    <use href="#C0_0_8627b4304c" x="246.928" y="111.513" style="fill: #b40426; fill-opacity: 0.7; stroke: #ffffff; stroke-opacity: 0.7"/>
    <use href="#C0_0_8627b4304c" x="246.928" y="111.513" style="fill: #b40426; fill-opacity: 0.7; stroke: #ffffff; stroke-opacity: 0.7"/>
    <use href="#C0_0_8627b4304c" x="287.002" y="319.226" style="fill: #2845a3; fill-opacity: 0.7; stroke: #ffffff; stroke-opacity: 0.7"/>
    <use href="#C0_0_8627b4304c" x="192.571" y="112.038" style="fill: #b40426; fill-opacity: 0.7; stroke: #ffffff; stroke-opacity: 0.7"/>
    <use href="#C0_0_8627b4304c" x="108.389" y="112.130" style="fill: #b40426; fill-opacity: 0.7; stroke: #ffffff; stroke-opacity: 0.7"/>
    <use href="#C0_0_8627b4304c" x="138.109" y="112.548" style="fill: #b40426; fill-opacity: 0.7; stroke: #ffffff; stroke-opacity: 0.7"/>
    <use href="#C0_0_8627b4304c" x="120.499" y="320.024" style="fill: #2845a3; fill-opacity: 0.7; stroke: #ffffff; stroke-opacity: 0.7"/>
    <use href="#C0_0_8627b4304c" x="194.615" y="112.585" style="fill: #b40426; fill-opacity: 0.7; stroke: #ffffff; stroke-opacity: 0.7"/>
    <use href="#C0_0_8627b4304c" x="335.726" y="112.632" style="fill: #b40426; fill-opacity: 0.7; stroke: #ffffff; stroke-opacity: 0.7"/>
    <use href="#C0_0_8627b4304c" x="177.536" y="320.233" style="fill: #2845a3; fill-opacity: 0.7; stroke: #ffffff; stroke-opacity: 0.7"/>
    <use href="#C0_0_8627b4304c" x="263.228" y="320.580" style="fill: #2845a3; fill-opacity: 0.7; stroke: #ffffff; stroke-opacity: 0.7"/>
    <use href="#C0_0_8627b4304c" x="235.248" y="320.646" style="fill: #2845a3; fill-opacity: 0.7; stroke: #ffffff; stroke-opacity: 0.7"/>
    <use href="#C0_0_8627b4304c" x="291.751" y="320.680" style="fill: #2845a3; fill-opacity: 0.7; stroke: #ffffff; stroke-opacity: 0.7"/>
    <use href="#C0_0_8627b4304c" x="207.175" y="320.685" style="fill: #2845a3; fill-opacity: 0.7; stroke: #ffffff; stroke-opacity: 0.7"/>
    <use href="#C0_0_8627b4304c" x="196.779" y="113.163" style="fill: #b40426; fill-opacity: 0.7; stroke: #ffffff; stroke-opacity: 0.7"/>
    <use href="#C0_0_8627b4304c" x="180.402" y="321.132" style="fill: #2845a3; fill-opacity: 0.7; stroke: #ffffff; stroke-opacity: 0.7"/>
    <use href="#C0_0_8627b4304c" x="226.465" y="113.558" style="fill: #b40426; fill-opacity: 0.7; stroke: #ffffff; stroke-opacity: 0.7"/>
    <use href="#C0_0_8627b4304c" x="294.265" y="321.450" style="fill: #2845a3; fill-opacity: 0.7; stroke: #ffffff; stroke-opacity: 0.7"/>
    <use href="#C0_0_8627b4304c" x="238.091" y="321.527" style="fill: #2845a3; fill-opacity: 0.7; stroke: #ffffff; stroke-opacity: 0.7"/>
    <use href="#C0_0_8627b4304c" x="341.415" y="114.108" style="fill: #b40426; fill-opacity: 0.7; stroke: #ffffff; stroke-opacity: 0.7"/>
    <use href="#C0_0_8627b4304c" x="313.900" y="114.292" style="fill: #b40426; fill-opacity: 0.7; stroke: #ffffff; stroke-opacity: 0.7"/>
    <use href="#C0_0_8627b4304c" x="173.101" y="114.379" style="fill: #b40426; fill-opacity: 0.7; stroke: #ffffff; stroke-opacity: 0.7"/>
    <use href="#C0_0_8627b4304c" x="127.274" y="322.175" style="fill: #2845a3; fill-opacity: 0.7; stroke: #ffffff; stroke-opacity: 0.7"/>
    <use href="#C0_0_8627b4304c" x="127.274" y="322.175" style="fill: #2845a3; fill-opacity: 0.7; stroke: #ffffff; stroke-opacity: 0.7"/>
    <use href="#C0_0_8627b4304c" x="269.585" y="322.538" style="fill: #2845a3; fill-opacity: 0.7; stroke: #ffffff; stroke-opacity: 0.7"/>
    <use href="#C0_0_8627b4304c" x="146.613" y="114.850" style="fill: #b40426; fill-opacity: 0.7; stroke: #ffffff; stroke-opacity: 0.7"/>
    <use href="#C0_0_8627b4304c" x="146.613" y="114.850" style="fill: #b40426; fill-opacity: 0.7; stroke: #ffffff; stroke-opacity: 0.7"/>
    <use href="#C0_0_8627b4304c" x="231.457" y="114.885" style="fill: #b40426; fill-opacity: 0.7; stroke: #ffffff; stroke-opacity: 0.7"/>
    <use href="#C0_0_8627b4304c" x="175.525" y="115.031" style="fill: #b40426; fill-opacity: 0.7; stroke: #ffffff; stroke-opacity: 0.7"/>
    <use href="#C0_0_8627b4304c" x="242.617" y="322.930" style="fill: #2845a3; fill-opacity: 0.7; stroke: #ffffff; stroke-opacity: 0.7"/>
    <use href="#C0_0_8627b4304c" x="158.233" y="323.038" style="fill: #2845a3; fill-opacity: 0.7; stroke: #ffffff; stroke-opacity: 0.7"/>
    <use href="#C0_0_8627b4304c" x="119.549" y="115.169" style="fill: #b40426; fill-opacity: 0.7; stroke: #ffffff; stroke-opacity: 0.7"/>
    <use href="#C0_0_8627b4304c" x="186.857" y="323.157" style="fill: #2845a3; fill-opacity: 0.7; stroke: #ffffff; stroke-opacity: 0.7"/>
    <use href="#C0_0_8627b4304c" x="186.857" y="323.157" style="fill: #2845a3; fill-opacity: 0.7; stroke: #ffffff; stroke-opacity: 0.7"/>
    <use href="#C0_0_8627b4304c" x="347.209" y="115.611" style="fill: #b40426; fill-opacity: 0.7; stroke: #ffffff; stroke-opacity: 0.7"/>
    <use href="#C0_0_8627b4304c" x="93.634" y="115.808" style="fill: #b40426; fill-opacity: 0.7; stroke: #ffffff; stroke-opacity: 0.7"/>
    <use href="#C0_0_8627b4304c" x="263.396" y="115.862" style="fill: #b40426; fill-opacity: 0.7; stroke: #ffffff; stroke-opacity: 0.7"/>
    <use href="#C0_0_8627b4304c" x="263.396" y="115.862" style="fill: #b40426; fill-opacity: 0.7; stroke: #ffffff; stroke-opacity: 0.7"/>
    <use href="#C0_0_8627b4304c" x="161.388" y="324.034" style="fill: #2845a3; fill-opacity: 0.7; stroke: #ffffff; stroke-opacity: 0.7"/>
    <use href="#C0_0_8627b4304c" x="105.513" y="324.242" style="fill: #2845a3; fill-opacity: 0.7; stroke: #ffffff; stroke-opacity: 0.7"/>
    <use href="#C0_0_8627b4304c" x="105.513" y="324.242" style="fill: #2845a3; fill-opacity: 0.7; stroke: #ffffff; stroke-opacity: 0.7"/>
    <use href="#C0_0_8627b4304c" x="180.587" y="116.393" style="fill: #b40426; fill-opacity: 0.7; stroke: #ffffff; stroke-opacity: 0.7"/>
    <use href="#C0_0_8627b4304c" x="134.802" y="324.566" style="fill: #2845a3; fill-opacity: 0.7; stroke: #ffffff; stroke-opacity: 0.7"/>
    <use href="#C0_0_8627b4304c" x="350.895" y="116.567" style="fill: #b40426; fill-opacity: 0.7; stroke: #ffffff; stroke-opacity: 0.7"/>
    <use href="#C0_0_8627b4304c" x="183.018" y="117.047" style="fill: #b40426; fill-opacity: 0.7; stroke: #ffffff; stroke-opacity: 0.7"/>
    <use href="#C0_0_8627b4304c" x="165.551" y="325.348" style="fill: #2845a3; fill-opacity: 0.7; stroke: #ffffff; stroke-opacity: 0.7"/>
    <use href="#C0_0_8627b4304c" x="194.400" y="325.523" style="fill: #2845a3; fill-opacity: 0.7; stroke: #ffffff; stroke-opacity: 0.7"/>
    <use href="#C0_0_8627b4304c" x="279.381" y="325.555" style="fill: #2845a3; fill-opacity: 0.7; stroke: #ffffff; stroke-opacity: 0.7"/>
    <use href="#C0_0_8627b4304c" x="99.745" y="117.482" style="fill: #b40426; fill-opacity: 0.7; stroke: #ffffff; stroke-opacity: 0.7"/>
    <use href="#C0_0_8627b4304c" x="213.600" y="117.660" style="fill: #b40426; fill-opacity: 0.7; stroke: #ffffff; stroke-opacity: 0.7"/>
    <use href="#C0_0_8627b4304c" x="270.797" y="117.816" style="fill: #b40426; fill-opacity: 0.7; stroke: #ffffff; stroke-opacity: 0.7"/>
    <use href="#C0_0_8627b4304c" x="158.395" y="118.038" style="fill: #b40426; fill-opacity: 0.7; stroke: #ffffff; stroke-opacity: 0.7"/>
    <use href="#C0_0_8627b4304c" x="254.258" y="326.537" style="fill: #2845a3; fill-opacity: 0.7; stroke: #ffffff; stroke-opacity: 0.7"/>
    <use href="#C0_0_8627b4304c" x="329.388" y="118.333" style="fill: #b40426; fill-opacity: 0.7; stroke: #ffffff; stroke-opacity: 0.7"/>
    <use href="#C0_0_8627b4304c" x="216.979" y="118.563" style="fill: #b40426; fill-opacity: 0.7; stroke: #ffffff; stroke-opacity: 0.7"/>
    <use href="#C0_0_8627b4304c" x="302.082" y="118.598" style="fill: #b40426; fill-opacity: 0.7; stroke: #ffffff; stroke-opacity: 0.7"/>
    <use href="#C0_0_8627b4304c" x="302.082" y="118.598" style="fill: #b40426; fill-opacity: 0.7; stroke: #ffffff; stroke-opacity: 0.7"/>
    <use href="#C0_0_8627b4304c" x="143.091" y="327.199" style="fill: #2845a3; fill-opacity: 0.7; stroke: #ffffff; stroke-opacity: 0.7"/>
    <use href="#C0_0_8627b4304c" x="160.996" y="118.742" style="fill: #b40426; fill-opacity: 0.7; stroke: #ffffff; stroke-opacity: 0.7"/>
    <use href="#C0_0_8627b4304c" x="285.540" y="327.452" style="fill: #2845a3; fill-opacity: 0.7; stroke: #ffffff; stroke-opacity: 0.7"/>
    <use href="#C0_0_8627b4304c" x="173.397" y="327.824" style="fill: #2845a3; fill-opacity: 0.7; stroke: #ffffff; stroke-opacity: 0.7"/>
    <use href="#C0_0_8627b4304c" x="173.397" y="327.824" style="fill: #2845a3; fill-opacity: 0.7; stroke: #ffffff; stroke-opacity: 0.7"/>
    <use href="#C0_0_8627b4304c" x="191.340" y="119.285" style="fill: #b40426; fill-opacity: 0.7; stroke: #ffffff; stroke-opacity: 0.7"/>
    <use href="#C0_0_8627b4304c" x="219.824" y="119.323" style="fill: #b40426; fill-opacity: 0.7; stroke: #ffffff; stroke-opacity: 0.7"/>
    <use href="#C0_0_8627b4304c" x="231.833" y="328.373" style="fill: #2845a3; fill-opacity: 0.7; stroke: #ffffff; stroke-opacity: 0.7"/>
    <use href="#C0_0_8627b4304c" x="90.905" y="328.635" style="fill: #2845a3; fill-opacity: 0.7; stroke: #ffffff; stroke-opacity: 0.7"/>
    <use href="#C0_0_8627b4304c" x="308.155" y="120.192" style="fill: #b40426; fill-opacity: 0.7; stroke: #ffffff; stroke-opacity: 0.7"/>
    <use href="#C0_0_8627b4304c" x="262.717" y="329.158" style="fill: #2845a3; fill-opacity: 0.7; stroke: #ffffff; stroke-opacity: 0.7"/>
    <use href="#C0_0_8627b4304c" x="281.168" y="120.555" style="fill: #b40426; fill-opacity: 0.7; stroke: #ffffff; stroke-opacity: 0.7"/>
    <use href="#C0_0_8627b4304c" x="224.803" y="120.654" style="fill: #b40426; fill-opacity: 0.7; stroke: #ffffff; stroke-opacity: 0.7"/>
    <use href="#C0_0_8627b4304c" x="224.803" y="120.654" style="fill: #b40426; fill-opacity: 0.7; stroke: #ffffff; stroke-opacity: 0.7"/>
    <use href="#C0_0_8627b4304c" x="265.442" y="330.003" style="fill: #2845a3; fill-opacity: 0.7; stroke: #ffffff; stroke-opacity: 0.7"/>
    <use href="#C0_0_8627b4304c" x="312.345" y="121.292" style="fill: #b40426; fill-opacity: 0.7; stroke: #ffffff; stroke-opacity: 0.7"/>
    <use href="#C0_0_8627b4304c" x="237.851" y="330.249" style="fill: #2845a3; fill-opacity: 0.7; stroke: #ffffff; stroke-opacity: 0.7"/>
    <use href="#C0_0_8627b4304c" x="229.221" y="121.835" style="fill: #b40426; fill-opacity: 0.7; stroke: #ffffff; stroke-opacity: 0.7"/>
    <use href="#C0_0_8627b4304c" x="201.576" y="122.038" style="fill: #b40426; fill-opacity: 0.7; stroke: #ffffff; stroke-opacity: 0.7"/>
    <use href="#C0_0_8627b4304c" x="344.360" y="122.239" style="fill: #b40426; fill-opacity: 0.7; stroke: #ffffff; stroke-opacity: 0.7"/>
    <use href="#C0_0_8627b4304c" x="287.863" y="122.323" style="fill: #b40426; fill-opacity: 0.7; stroke: #ffffff; stroke-opacity: 0.7"/>
    <use href="#C0_0_8627b4304c" x="213.907" y="331.642" style="fill: #2845a3; fill-opacity: 0.7; stroke: #ffffff; stroke-opacity: 0.7"/>
    <use href="#C0_0_8627b4304c" x="260.429" y="122.582" style="fill: #b40426; fill-opacity: 0.7; stroke: #ffffff; stroke-opacity: 0.7"/>
    <use href="#C0_0_8627b4304c" x="129.157" y="331.798" style="fill: #2845a3; fill-opacity: 0.7; stroke: #ffffff; stroke-opacity: 0.7"/>
    <use href="#C0_0_8627b4304c" x="204.090" y="122.714" style="fill: #b40426; fill-opacity: 0.7; stroke: #ffffff; stroke-opacity: 0.7"/>
    <use href="#C0_0_8627b4304c" x="204.090" y="122.714" style="fill: #b40426; fill-opacity: 0.7; stroke: #ffffff; stroke-opacity: 0.7"/>
    <use href="#C0_0_8627b4304c" x="101.566" y="332.064" style="fill: #2845a3; fill-opacity: 0.7; stroke: #ffffff; stroke-opacity: 0.7"/>
    <use href="#C0_0_8627b4304c" x="215.978" y="332.292" style="fill: #2845a3; fill-opacity: 0.7; stroke: #ffffff; stroke-opacity: 0.7"/>
    <use href="#C0_0_8627b4304c" x="120.352" y="123.130" style="fill: #b40426; fill-opacity: 0.7; stroke: #ffffff; stroke-opacity: 0.7"/>
    <use href="#C0_0_8627b4304c" x="149.277" y="123.265" style="fill: #b40426; fill-opacity: 0.7; stroke: #ffffff; stroke-opacity: 0.7"/>
    <use href="#C0_0_8627b4304c" x="291.737" y="123.346" style="fill: #b40426; fill-opacity: 0.7; stroke: #ffffff; stroke-opacity: 0.7"/>
    <use href="#C0_0_8627b4304c" x="132.192" y="332.768" style="fill: #2845a3; fill-opacity: 0.7; stroke: #ffffff; stroke-opacity: 0.7"/>
    <use href="#C0_0_8627b4304c" x="235.577" y="123.534" style="fill: #b40426; fill-opacity: 0.7; stroke: #ffffff; stroke-opacity: 0.7"/>
    <use href="#C0_0_8627b4304c" x="218.171" y="332.980" style="fill: #2845a3; fill-opacity: 0.7; stroke: #ffffff; stroke-opacity: 0.7"/>
    <use href="#C0_0_8627b4304c" x="179.073" y="123.634" style="fill: #b40426; fill-opacity: 0.7; stroke: #ffffff; stroke-opacity: 0.7"/>
    <use href="#C0_0_8627b4304c" x="179.073" y="123.634" style="fill: #b40426; fill-opacity: 0.7; stroke: #ffffff; stroke-opacity: 0.7"/>
    <use href="#C0_0_8627b4304c" x="220.576" y="333.734" style="fill: #2845a3; fill-opacity: 0.7; stroke: #ffffff; stroke-opacity: 0.7"/>
    <use href="#C0_0_8627b4304c" x="163.740" y="333.757" style="fill: #2845a3; fill-opacity: 0.7; stroke: #ffffff; stroke-opacity: 0.7"/>
    <use href="#C0_0_8627b4304c" x="193.414" y="334.142" style="fill: #2845a3; fill-opacity: 0.7; stroke: #ffffff; stroke-opacity: 0.7"/>
    <use href="#C0_0_8627b4304c" x="239.683" y="124.632" style="fill: #b40426; fill-opacity: 0.7; stroke: #ffffff; stroke-opacity: 0.7"/>
    <use href="#C0_0_8627b4304c" x="239.683" y="124.632" style="fill: #b40426; fill-opacity: 0.7; stroke: #ffffff; stroke-opacity: 0.7"/>
    <use href="#C0_0_8627b4304c" x="165.821" y="334.418" style="fill: #2845a3; fill-opacity: 0.7; stroke: #ffffff; stroke-opacity: 0.7"/>
    <use href="#C0_0_8627b4304c" x="326.283" y="124.950" style="fill: #b40426; fill-opacity: 0.7; stroke: #ffffff; stroke-opacity: 0.7"/>
    <use href="#C0_0_8627b4304c" x="251.781" y="334.592" style="fill: #2845a3; fill-opacity: 0.7; stroke: #ffffff; stroke-opacity: 0.7"/>
    <use href="#C0_0_8627b4304c" x="99.453" y="125.206" style="fill: #b40426; fill-opacity: 0.7; stroke: #ffffff; stroke-opacity: 0.7"/>
    <use href="#C0_0_8627b4304c" x="224.069" y="334.830" style="fill: #2845a3; fill-opacity: 0.7; stroke: #ffffff; stroke-opacity: 0.7"/>
    <use href="#C0_0_8627b4304c" x="138.749" y="334.864" style="fill: #2845a3; fill-opacity: 0.7; stroke: #ffffff; stroke-opacity: 0.7"/>
    <use href="#C0_0_8627b4304c" x="138.749" y="334.864" style="fill: #2845a3; fill-opacity: 0.7; stroke: #ffffff; stroke-opacity: 0.7"/>
    <use href="#C0_0_8627b4304c" x="71.858" y="125.450" style="fill: #b40426; fill-opacity: 0.7; stroke: #ffffff; stroke-opacity: 0.7"/>
    <use href="#C0_0_8627b4304c" x="197.037" y="335.286" style="fill: #2845a3; fill-opacity: 0.7; stroke: #ffffff; stroke-opacity: 0.7"/>
    <use href="#C0_0_8627b4304c" x="187.193" y="125.832" style="fill: #b40426; fill-opacity: 0.7; stroke: #ffffff; stroke-opacity: 0.7"/>
    <use href="#C0_0_8627b4304c" x="101.800" y="125.853" style="fill: #b40426; fill-opacity: 0.7; stroke: #ffffff; stroke-opacity: 0.7"/>
    <use href="#C0_0_8627b4304c" x="159.036" y="125.922" style="fill: #b40426; fill-opacity: 0.7; stroke: #ffffff; stroke-opacity: 0.7"/>
    <use href="#C0_0_8627b4304c" x="216.429" y="126.033" style="fill: #b40426; fill-opacity: 0.7; stroke: #ffffff; stroke-opacity: 0.7"/>
    <use href="#C0_0_8627b4304c" x="330.690" y="126.107" style="fill: #b40426; fill-opacity: 0.7; stroke: #ffffff; stroke-opacity: 0.7"/>
    <use href="#C0_0_8627b4304c" x="229.016" y="336.382" style="fill: #2845a3; fill-opacity: 0.7; stroke: #ffffff; stroke-opacity: 0.7"/>
    <use href="#C0_0_8627b4304c" x="303.887" y="126.554" style="fill: #b40426; fill-opacity: 0.7; stroke: #ffffff; stroke-opacity: 0.7"/>
    <use href="#C0_0_8627b4304c" x="303.887" y="126.554" style="fill: #b40426; fill-opacity: 0.7; stroke: #ffffff; stroke-opacity: 0.7"/>
    <use href="#C0_0_8627b4304c" x="200.966" y="336.526" style="fill: #2845a3; fill-opacity: 0.7; stroke: #ffffff; stroke-opacity: 0.7"/>
    <use href="#C0_0_8627b4304c" x="247.736" y="126.784" style="fill: #b40426; fill-opacity: 0.7; stroke: #ffffff; stroke-opacity: 0.7"/>
    <use href="#C0_0_8627b4304c" x="251.013" y="127.660" style="fill: #b40426; fill-opacity: 0.7; stroke: #ffffff; stroke-opacity: 0.7"/>
    <use href="#C0_0_8627b4304c" x="337.487" y="127.891" style="fill: #b40426; fill-opacity: 0.7; stroke: #ffffff; stroke-opacity: 0.7"/>
    <use href="#C0_0_8627b4304c" x="234.700" y="338.165" style="fill: #2845a3; fill-opacity: 0.7; stroke: #ffffff; stroke-opacity: 0.7"/>
    <use href="#C0_0_8627b4304c" x="138.629" y="128.138" style="fill: #b40426; fill-opacity: 0.7; stroke: #ffffff; stroke-opacity: 0.7"/>
    <use href="#C0_0_8627b4304c" x="179.155" y="338.653" style="fill: #2845a3; fill-opacity: 0.7; stroke: #ffffff; stroke-opacity: 0.7"/>
    <use href="#C0_0_8627b4304c" x="83.429" y="128.661" style="fill: #b40426; fill-opacity: 0.7; stroke: #ffffff; stroke-opacity: 0.7"/>
    <use href="#C0_0_8627b4304c" x="141.803" y="129.008" style="fill: #b40426; fill-opacity: 0.7; stroke: #ffffff; stroke-opacity: 0.7"/>
    <use href="#C0_0_8627b4304c" x="152.603" y="339.292" style="fill: #2845a3; fill-opacity: 0.7; stroke: #ffffff; stroke-opacity: 0.7"/>
    <use href="#C0_0_8627b4304c" x="228.229" y="129.206" style="fill: #b40426; fill-opacity: 0.7; stroke: #ffffff; stroke-opacity: 0.7"/>
    <use href="#C0_0_8627b4304c" x="171.316" y="129.266" style="fill: #b40426; fill-opacity: 0.7; stroke: #ffffff; stroke-opacity: 0.7"/>
    <use href="#C0_0_8627b4304c" x="183.078" y="339.899" style="fill: #2845a3; fill-opacity: 0.7; stroke: #ffffff; stroke-opacity: 0.7"/>
    <use href="#C0_0_8627b4304c" x="144.268" y="129.683" style="fill: #b40426; fill-opacity: 0.7; stroke: #ffffff; stroke-opacity: 0.7"/>
    <use href="#C0_0_8627b4304c" x="155.223" y="340.129" style="fill: #2845a3; fill-opacity: 0.7; stroke: #ffffff; stroke-opacity: 0.7"/>
    <use href="#C0_0_8627b4304c" x="260.995" y="130.329" style="fill: #b40426; fill-opacity: 0.7; stroke: #ffffff; stroke-opacity: 0.7"/>
    <use href="#C0_0_8627b4304c" x="146.974" y="130.425" style="fill: #b40426; fill-opacity: 0.7; stroke: #ffffff; stroke-opacity: 0.7"/>
    <use href="#C0_0_8627b4304c" x="118.710" y="130.516" style="fill: #b40426; fill-opacity: 0.7; stroke: #ffffff; stroke-opacity: 0.7"/>
    <use href="#C0_0_8627b4304c" x="188.959" y="341.767" style="fill: #2845a3; fill-opacity: 0.7; stroke: #ffffff; stroke-opacity: 0.7"/>
    <use href="#C0_0_8627b4304c" x="207.077" y="131.213" style="fill: #b40426; fill-opacity: 0.7; stroke: #ffffff; stroke-opacity: 0.7"/>
    <use href="#C0_0_8627b4304c" x="64.712" y="131.409" style="fill: #b40426; fill-opacity: 0.7; stroke: #ffffff; stroke-opacity: 0.7"/>
    <use href="#C0_0_8627b4304c" x="247.175" y="342.078" style="fill: #2845a3; fill-opacity: 0.7; stroke: #ffffff; stroke-opacity: 0.7"/>
    <use href="#C0_0_8627b4304c" x="152.068" y="131.821" style="fill: #b40426; fill-opacity: 0.7; stroke: #ffffff; stroke-opacity: 0.7"/>
    <use href="#C0_0_8627b4304c" x="152.068" y="131.821" style="fill: #b40426; fill-opacity: 0.7; stroke: #ffffff; stroke-opacity: 0.7"/>
    <use href="#C0_0_8627b4304c" x="96.180" y="132.200" style="fill: #b40426; fill-opacity: 0.7; stroke: #ffffff; stroke-opacity: 0.7"/>
    <use href="#C0_0_8627b4304c" x="211.062" y="132.291" style="fill: #b40426; fill-opacity: 0.7; stroke: #ffffff; stroke-opacity: 0.7"/>
    <use href="#C0_0_8627b4304c" x="211.062" y="132.291" style="fill: #b40426; fill-opacity: 0.7; stroke: #ffffff; stroke-opacity: 0.7"/>
    <use href="#C0_0_8627b4304c" x="297.574" y="132.450" style="fill: #b40426; fill-opacity: 0.7; stroke: #ffffff; stroke-opacity: 0.7"/>
    <use href="#C0_0_8627b4304c" x="269.734" y="132.665" style="fill: #b40426; fill-opacity: 0.7; stroke: #ffffff; stroke-opacity: 0.7"/>
    <use href="#C0_0_8627b4304c" x="269.734" y="132.665" style="fill: #b40426; fill-opacity: 0.7; stroke: #ffffff; stroke-opacity: 0.7"/>
    <use href="#C0_0_8627b4304c" x="69.366" y="132.709" style="fill: #b40426; fill-opacity: 0.7; stroke: #ffffff; stroke-opacity: 0.7"/>
    <use href="#C0_0_8627b4304c" x="98.332" y="132.797" style="fill: #b40426; fill-opacity: 0.7; stroke: #ffffff; stroke-opacity: 0.7"/>
    <use href="#C0_0_8627b4304c" x="184.924" y="132.972" style="fill: #b40426; fill-opacity: 0.7; stroke: #ffffff; stroke-opacity: 0.7"/>
    <use href="#C0_0_8627b4304c" x="196.604" y="344.195" style="fill: #2845a3; fill-opacity: 0.7; stroke: #ffffff; stroke-opacity: 0.7"/>
    <use href="#C0_0_8627b4304c" x="255.162" y="344.583" style="fill: #2845a3; fill-opacity: 0.7; stroke: #ffffff; stroke-opacity: 0.7"/>
    <use href="#C0_0_8627b4304c" x="330.550" y="133.595" style="fill: #b40426; fill-opacity: 0.7; stroke: #ffffff; stroke-opacity: 0.7"/>
    <use href="#C0_0_8627b4304c" x="130.213" y="133.688" style="fill: #b40426; fill-opacity: 0.7; stroke: #ffffff; stroke-opacity: 0.7"/>
    <use href="#C0_0_8627b4304c" x="218.720" y="134.364" style="fill: #b40426; fill-opacity: 0.7; stroke: #ffffff; stroke-opacity: 0.7"/>
    <use href="#C0_0_8627b4304c" x="104.267" y="134.444" style="fill: #b40426; fill-opacity: 0.7; stroke: #ffffff; stroke-opacity: 0.7"/>
    <use href="#C0_0_8627b4304c" x="133.604" y="134.623" style="fill: #b40426; fill-opacity: 0.7; stroke: #ffffff; stroke-opacity: 0.7"/>
    <use href="#C0_0_8627b4304c" x="145.079" y="346.058" style="fill: #2845a3; fill-opacity: 0.7; stroke: #ffffff; stroke-opacity: 0.7"/>
    <use href="#C0_0_8627b4304c" x="261.431" y="346.550" style="fill: #2845a3; fill-opacity: 0.7; stroke: #ffffff; stroke-opacity: 0.7"/>
    <use href="#C0_0_8627b4304c" x="222.331" y="135.341" style="fill: #b40426; fill-opacity: 0.7; stroke: #ffffff; stroke-opacity: 0.7"/>
    <use href="#C0_0_8627b4304c" x="51.521" y="135.745" style="fill: #b40426; fill-opacity: 0.7; stroke: #ffffff; stroke-opacity: 0.7"/>
    <use href="#C0_0_8627b4304c" x="205.877" y="347.140" style="fill: #2845a3; fill-opacity: 0.7; stroke: #ffffff; stroke-opacity: 0.7"/>
    <use href="#C0_0_8627b4304c" x="112.414" y="136.705" style="fill: #b40426; fill-opacity: 0.7; stroke: #ffffff; stroke-opacity: 0.7"/>
    <use href="#C0_0_8627b4304c" x="285.306" y="136.827" style="fill: #b40426; fill-opacity: 0.7; stroke: #ffffff; stroke-opacity: 0.7"/>
    <use href="#C0_0_8627b4304c" x="142.641" y="137.115" style="fill: #b40426; fill-opacity: 0.7; stroke: #ffffff; stroke-opacity: 0.7"/>
    <use href="#C0_0_8627b4304c" x="85.332" y="137.168" style="fill: #b40426; fill-opacity: 0.7; stroke: #ffffff; stroke-opacity: 0.7"/>
    <use href="#C0_0_8627b4304c" x="316.338" y="137.435" style="fill: #b40426; fill-opacity: 0.7; stroke: #ffffff; stroke-opacity: 0.7"/>
    <use href="#C0_0_8627b4304c" x="172.948" y="137.542" style="fill: #b40426; fill-opacity: 0.7; stroke: #ffffff; stroke-opacity: 0.7"/>
    <use href="#C0_0_8627b4304c" x="59.933" y="138.110" style="fill: #b40426; fill-opacity: 0.7; stroke: #ffffff; stroke-opacity: 0.7"/>
    <use href="#C0_0_8627b4304c" x="157.170" y="349.946" style="fill: #2845a3; fill-opacity: 0.7; stroke: #ffffff; stroke-opacity: 0.7"/>
    <use href="#C0_0_8627b4304c" x="262.182" y="138.338" style="fill: #b40426; fill-opacity: 0.7; stroke: #ffffff; stroke-opacity: 0.7"/>
    <use href="#C0_0_8627b4304c" x="262.182" y="138.338" style="fill: #b40426; fill-opacity: 0.7; stroke: #ffffff; stroke-opacity: 0.7"/>
    <use href="#C0_0_8627b4304c" x="147.338" y="138.411" style="fill: #b40426; fill-opacity: 0.7; stroke: #ffffff; stroke-opacity: 0.7"/>
    <use href="#C0_0_8627b4304c" x="159.361" y="350.651" style="fill: #2845a3; fill-opacity: 0.7; stroke: #ffffff; stroke-opacity: 0.7"/>
    <use href="#C0_0_8627b4304c" x="293.147" y="138.923" style="fill: #b40426; fill-opacity: 0.7; stroke: #ffffff; stroke-opacity: 0.7"/>
    <use href="#C0_0_8627b4304c" x="121.156" y="139.131" style="fill: #b40426; fill-opacity: 0.7; stroke: #ffffff; stroke-opacity: 0.7"/>
    <use href="#C0_0_8627b4304c" x="178.764" y="139.136" style="fill: #b40426; fill-opacity: 0.7; stroke: #ffffff; stroke-opacity: 0.7"/>
    <use href="#C0_0_8627b4304c" x="63.665" y="139.159" style="fill: #b40426; fill-opacity: 0.7; stroke: #ffffff; stroke-opacity: 0.7"/>
    <use href="#C0_0_8627b4304c" x="151.804" y="139.642" style="fill: #b40426; fill-opacity: 0.7; stroke: #ffffff; stroke-opacity: 0.7"/>
    <use href="#C0_0_8627b4304c" x="65.608" y="139.705" style="fill: #b40426; fill-opacity: 0.7; stroke: #ffffff; stroke-opacity: 0.7"/>
    <use href="#C0_0_8627b4304c" x="249.377" y="351.806" style="fill: #2845a3; fill-opacity: 0.7; stroke: #ffffff; stroke-opacity: 0.7"/>
    <use href="#C0_0_8627b4304c" x="268.207" y="139.959" style="fill: #b40426; fill-opacity: 0.7; stroke: #ffffff; stroke-opacity: 0.7"/>
    <use href="#C0_0_8627b4304c" x="153.605" y="140.139" style="fill: #b40426; fill-opacity: 0.7; stroke: #ffffff; stroke-opacity: 0.7"/>
    <use href="#C0_0_8627b4304c" x="67.522" y="140.243" style="fill: #b40426; fill-opacity: 0.7; stroke: #ffffff; stroke-opacity: 0.7"/>
    <use href="#C0_0_8627b4304c" x="299.742" y="140.686" style="fill: #b40426; fill-opacity: 0.7; stroke: #ffffff; stroke-opacity: 0.7"/>
    <use href="#C0_0_8627b4304c" x="184.595" y="140.734" style="fill: #b40426; fill-opacity: 0.7; stroke: #ffffff; stroke-opacity: 0.7"/>
    <use href="#C0_0_8627b4304c" x="155.859" y="140.760" style="fill: #b40426; fill-opacity: 0.7; stroke: #ffffff; stroke-opacity: 0.7"/>
    <use href="#C0_0_8627b4304c" x="225.514" y="353.376" style="fill: #2845a3; fill-opacity: 0.7; stroke: #ffffff; stroke-opacity: 0.7"/>
    <use href="#C0_0_8627b4304c" x="71.060" y="141.238" style="fill: #b40426; fill-opacity: 0.7; stroke: #ffffff; stroke-opacity: 0.7"/>
    <use href="#C0_0_8627b4304c" x="129.303" y="141.392" style="fill: #b40426; fill-opacity: 0.7; stroke: #ffffff; stroke-opacity: 0.7"/>
    <use href="#C0_0_8627b4304c" x="302.783" y="141.499" style="fill: #b40426; fill-opacity: 0.7; stroke: #ffffff; stroke-opacity: 0.7"/>
    <use href="#C0_0_8627b4304c" x="103.108" y="142.133" style="fill: #b40426; fill-opacity: 0.7; stroke: #ffffff; stroke-opacity: 0.7"/>
    <use href="#C0_0_8627b4304c" x="259.022" y="354.850" style="fill: #2845a3; fill-opacity: 0.7; stroke: #ffffff; stroke-opacity: 0.7"/>
    <use href="#C0_0_8627b4304c" x="201.752" y="354.999" style="fill: #2845a3; fill-opacity: 0.7; stroke: #ffffff; stroke-opacity: 0.7"/>
    <use href="#C0_0_8627b4304c" x="75.491" y="142.484" style="fill: #b40426; fill-opacity: 0.7; stroke: #ffffff; stroke-opacity: 0.7"/>
    <use href="#C0_0_8627b4304c" x="191.775" y="142.701" style="fill: #b40426; fill-opacity: 0.7; stroke: #ffffff; stroke-opacity: 0.7"/>
    <use href="#C0_0_8627b4304c" x="162.904" y="142.703" style="fill: #b40426; fill-opacity: 0.7; stroke: #ffffff; stroke-opacity: 0.7"/>
    <use href="#C0_0_8627b4304c" x="173.823" y="355.303" style="fill: #2845a3; fill-opacity: 0.7; stroke: #ffffff; stroke-opacity: 0.7"/>
    <use href="#C0_0_8627b4304c" x="105.340" y="142.756" style="fill: #b40426; fill-opacity: 0.7; stroke: #ffffff; stroke-opacity: 0.7"/>
    <use href="#C0_0_8627b4304c" x="307.787" y="142.836" style="fill: #b40426; fill-opacity: 0.7; stroke: #ffffff; stroke-opacity: 0.7"/>
    <use href="#C0_0_8627b4304c" x="261.639" y="355.676" style="fill: #2845a3; fill-opacity: 0.7; stroke: #ffffff; stroke-opacity: 0.7"/>
    <use href="#C0_0_8627b4304c" x="232.944" y="355.736" style="fill: #2845a3; fill-opacity: 0.7; stroke: #ffffff; stroke-opacity: 0.7"/>
    <use href="#C0_0_8627b4304c" x="78.214" y="143.249" style="fill: #b40426; fill-opacity: 0.7; stroke: #ffffff; stroke-opacity: 0.7"/>
    <use href="#C0_0_8627b4304c" x="194.264" y="143.384" style="fill: #b40426; fill-opacity: 0.7; stroke: #ffffff; stroke-opacity: 0.7"/>
    <use href="#C0_0_8627b4304c" x="176.212" y="356.071" style="fill: #2845a3; fill-opacity: 0.7; stroke: #ffffff; stroke-opacity: 0.7"/>
    <use href="#C0_0_8627b4304c" x="107.932" y="143.480" style="fill: #b40426; fill-opacity: 0.7; stroke: #ffffff; stroke-opacity: 0.7"/>
    <use href="#C0_0_8627b4304c" x="252.683" y="143.555" style="fill: #b40426; fill-opacity: 0.7; stroke: #ffffff; stroke-opacity: 0.7"/>
    <use href="#C0_0_8627b4304c" x="197.426" y="144.250" style="fill: #b40426; fill-opacity: 0.7; stroke: #ffffff; stroke-opacity: 0.7"/>
    <use href="#C0_0_8627b4304c" x="197.426" y="144.250" style="fill: #b40426; fill-opacity: 0.7; stroke: #ffffff; stroke-opacity: 0.7"/>
    <use href="#C0_0_8627b4304c" x="181.574" y="357.795" style="fill: #2845a3; fill-opacity: 0.7; stroke: #ffffff; stroke-opacity: 0.7"/>
    <use href="#C0_0_8627b4304c" x="258.136" y="145.031" style="fill: #b40426; fill-opacity: 0.7; stroke: #ffffff; stroke-opacity: 0.7"/>
    <use href="#C0_0_8627b4304c" x="174.178" y="145.812" style="fill: #b40426; fill-opacity: 0.7; stroke: #ffffff; stroke-opacity: 0.7"/>
    <use href="#C0_0_8627b4304c" x="145.236" y="145.814" style="fill: #b40426; fill-opacity: 0.7; stroke: #ffffff; stroke-opacity: 0.7"/>
    <use href="#C0_0_8627b4304c" x="186.553" y="359.397" style="fill: #2845a3; fill-opacity: 0.7; stroke: #ffffff; stroke-opacity: 0.7"/>
    <use href="#C0_0_8627b4304c" x="262.859" y="146.309" style="fill: #b40426; fill-opacity: 0.7; stroke: #ffffff; stroke-opacity: 0.7"/>
    <use href="#C0_0_8627b4304c" x="147.284" y="146.382" style="fill: #b40426; fill-opacity: 0.7; stroke: #ffffff; stroke-opacity: 0.7"/>
    <use href="#C0_0_8627b4304c" x="147.284" y="146.382" style="fill: #b40426; fill-opacity: 0.7; stroke: #ffffff; stroke-opacity: 0.7"/>
    <use href="#C0_0_8627b4304c" x="216.790" y="359.805" style="fill: #2845a3; fill-opacity: 0.7; stroke: #ffffff; stroke-opacity: 0.7"/>
    <use href="#C0_0_8627b4304c" x="265.332" y="146.978" style="fill: #b40426; fill-opacity: 0.7; stroke: #ffffff; stroke-opacity: 0.7"/>
    <use href="#C0_0_8627b4304c" x="295.080" y="147.186" style="fill: #b40426; fill-opacity: 0.7; stroke: #ffffff; stroke-opacity: 0.7"/>
    <use href="#C0_0_8627b4304c" x="209.105" y="147.451" style="fill: #b40426; fill-opacity: 0.7; stroke: #ffffff; stroke-opacity: 0.7"/>
    <use href="#C0_0_8627b4304c" x="220.404" y="360.960" style="fill: #2845a3; fill-opacity: 0.7; stroke: #ffffff; stroke-opacity: 0.7"/>
    <use href="#C0_0_8627b4304c" x="268.087" y="147.724" style="fill: #b40426; fill-opacity: 0.7; stroke: #ffffff; stroke-opacity: 0.7"/>
    <use href="#C0_0_8627b4304c" x="268.087" y="147.724" style="fill: #b40426; fill-opacity: 0.7; stroke: #ffffff; stroke-opacity: 0.7"/>
    <use href="#C0_0_8627b4304c" x="193.311" y="361.570" style="fill: #2845a3; fill-opacity: 0.7; stroke: #ffffff; stroke-opacity: 0.7"/>
    <use href="#C0_0_8627b4304c" x="127.180" y="148.856" style="fill: #b40426; fill-opacity: 0.7; stroke: #ffffff; stroke-opacity: 0.7"/>
    <use href="#C0_0_8627b4304c" x="185.692" y="148.987" style="fill: #b40426; fill-opacity: 0.7; stroke: #ffffff; stroke-opacity: 0.7"/>
    <use href="#C0_0_8627b4304c" x="40.821" y="149.054" style="fill: #b40426; fill-opacity: 0.7; stroke: #ffffff; stroke-opacity: 0.7"/>
    <use href="#C0_0_8627b4304c" x="197.460" y="362.904" style="fill: #2845a3; fill-opacity: 0.7; stroke: #ffffff; stroke-opacity: 0.7"/>
    <use href="#C0_0_8627b4304c" x="244.833" y="149.286" style="fill: #b40426; fill-opacity: 0.7; stroke: #ffffff; stroke-opacity: 0.7"/>
    <use href="#C0_0_8627b4304c" x="304.596" y="149.745" style="fill: #b40426; fill-opacity: 0.7; stroke: #ffffff; stroke-opacity: 0.7"/>
    <use href="#C0_0_8627b4304c" x="45.811" y="150.475" style="fill: #b40426; fill-opacity: 0.7; stroke: #ffffff; stroke-opacity: 0.7"/>
    <use href="#C0_0_8627b4304c" x="191.943" y="150.711" style="fill: #b40426; fill-opacity: 0.7; stroke: #ffffff; stroke-opacity: 0.7"/>
    <use href="#C0_0_8627b4304c" x="76.110" y="150.827" style="fill: #b40426; fill-opacity: 0.7; stroke: #ffffff; stroke-opacity: 0.7"/>
    <use href="#C0_0_8627b4304c" x="250.672" y="150.876" style="fill: #b40426; fill-opacity: 0.7; stroke: #ffffff; stroke-opacity: 0.7"/>
    <use href="#C0_0_8627b4304c" x="312.080" y="151.758" style="fill: #b40426; fill-opacity: 0.7; stroke: #ffffff; stroke-opacity: 0.7"/>
    <use href="#C0_0_8627b4304c" x="195.825" y="151.782" style="fill: #b40426; fill-opacity: 0.7; stroke: #ffffff; stroke-opacity: 0.7"/>
    <use href="#C0_0_8627b4304c" x="195.825" y="151.782" style="fill: #b40426; fill-opacity: 0.7; stroke: #ffffff; stroke-opacity: 0.7"/>
    <use href="#C0_0_8627b4304c" x="108.916" y="151.880" style="fill: #b40426; fill-opacity: 0.7; stroke: #ffffff; stroke-opacity: 0.7"/>
    <use href="#C0_0_8627b4304c" x="79.835" y="151.881" style="fill: #b40426; fill-opacity: 0.7; stroke: #ffffff; stroke-opacity: 0.7"/>
    <use href="#C0_0_8627b4304c" x="228.170" y="152.675" style="fill: #b40426; fill-opacity: 0.7; stroke: #ffffff; stroke-opacity: 0.7"/>
    <use href="#C0_0_8627b4304c" x="83.087" y="152.802" style="fill: #b40426; fill-opacity: 0.7; stroke: #ffffff; stroke-opacity: 0.7"/>
    <use href="#C0_0_8627b4304c" x="210.937" y="367.239" style="fill: #2845a3; fill-opacity: 0.7; stroke: #ffffff; stroke-opacity: 0.7"/>
    <use href="#C0_0_8627b4304c" x="240.136" y="367.266" style="fill: #2845a3; fill-opacity: 0.7; stroke: #ffffff; stroke-opacity: 0.7"/>
    <use href="#C0_0_8627b4304c" x="214.872" y="368.504" style="fill: #2845a3; fill-opacity: 0.7; stroke: #ffffff; stroke-opacity: 0.7"/>
    <use href="#C0_0_8627b4304c" x="204.222" y="154.097" style="fill: #b40426; fill-opacity: 0.7; stroke: #ffffff; stroke-opacity: 0.7"/>
    <use href="#C0_0_8627b4304c" x="146.138" y="154.151" style="fill: #b40426; fill-opacity: 0.7; stroke: #ffffff; stroke-opacity: 0.7"/>
    <use href="#C0_0_8627b4304c" x="263.202" y="154.289" style="fill: #b40426; fill-opacity: 0.7; stroke: #ffffff; stroke-opacity: 0.7"/>
    <use href="#C0_0_8627b4304c" x="293.998" y="154.736" style="fill: #b40426; fill-opacity: 0.7; stroke: #ffffff; stroke-opacity: 0.7"/>
    <use href="#C0_0_8627b4304c" x="236.632" y="154.994" style="fill: #b40426; fill-opacity: 0.7; stroke: #ffffff; stroke-opacity: 0.7"/>
    <use href="#C0_0_8627b4304c" x="266.283" y="155.128" style="fill: #b40426; fill-opacity: 0.7; stroke: #ffffff; stroke-opacity: 0.7"/>
    <use href="#C0_0_8627b4304c" x="219.122" y="369.871" style="fill: #2845a3; fill-opacity: 0.7; stroke: #ffffff; stroke-opacity: 0.7"/>
    <use href="#C0_0_8627b4304c" x="92.064" y="155.341" style="fill: #b40426; fill-opacity: 0.7; stroke: #ffffff; stroke-opacity: 0.7"/>
    <use href="#C0_0_8627b4304c" x="209.909" y="155.666" style="fill: #b40426; fill-opacity: 0.7; stroke: #ffffff; stroke-opacity: 0.7"/>
    <use href="#C0_0_8627b4304c" x="36.051" y="156.007" style="fill: #b40426; fill-opacity: 0.7; stroke: #ffffff; stroke-opacity: 0.7"/>
    <use href="#C0_0_8627b4304c" x="153.030" y="156.076" style="fill: #b40426; fill-opacity: 0.7; stroke: #ffffff; stroke-opacity: 0.7"/>
    <use href="#C0_0_8627b4304c" x="269.929" y="156.121" style="fill: #b40426; fill-opacity: 0.7; stroke: #ffffff; stroke-opacity: 0.7"/>
    <use href="#C0_0_8627b4304c" x="223.257" y="371.201" style="fill: #2845a3; fill-opacity: 0.7; stroke: #ffffff; stroke-opacity: 0.7"/>
    <use href="#C0_0_8627b4304c" x="95.635" y="156.352" style="fill: #b40426; fill-opacity: 0.7; stroke: #ffffff; stroke-opacity: 0.7"/>
    <use href="#C0_0_8627b4304c" x="125.394" y="156.511" style="fill: #b40426; fill-opacity: 0.7; stroke: #ffffff; stroke-opacity: 0.7"/>
    <use href="#C0_0_8627b4304c" x="227.368" y="372.523" style="fill: #2845a3; fill-opacity: 0.7; stroke: #ffffff; stroke-opacity: 0.7"/>
    <use href="#C0_0_8627b4304c" x="42.251" y="157.784" style="fill: #b40426; fill-opacity: 0.7; stroke: #ffffff; stroke-opacity: 0.7"/>
    <use href="#C0_0_8627b4304c" x="194.575" y="159.507" style="fill: #b40426; fill-opacity: 0.7; stroke: #ffffff; stroke-opacity: 0.7"/>
    <use href="#C0_0_8627b4304c" x="166.266" y="159.773" style="fill: #b40426; fill-opacity: 0.7; stroke: #ffffff; stroke-opacity: 0.7"/>
    <use href="#C0_0_8627b4304c" x="50.555" y="160.164" style="fill: #b40426; fill-opacity: 0.7; stroke: #ffffff; stroke-opacity: 0.7"/>
    <use href="#C0_0_8627b4304c" x="138.583" y="160.219" style="fill: #b40426; fill-opacity: 0.7; stroke: #ffffff; stroke-opacity: 0.7"/>
    <use href="#C0_0_8627b4304c" x="168.652" y="160.440" style="fill: #b40426; fill-opacity: 0.7; stroke: #ffffff; stroke-opacity: 0.7"/>
    <use href="#C0_0_8627b4304c" x="168.652" y="160.440" style="fill: #b40426; fill-opacity: 0.7; stroke: #ffffff; stroke-opacity: 0.7"/>
    <use href="#C0_0_8627b4304c" x="286.644" y="160.672" style="fill: #b40426; fill-opacity: 0.7; stroke: #ffffff; stroke-opacity: 0.7"/>
    <use href="#C0_0_8627b4304c" x="257.548" y="160.725" style="fill: #b40426; fill-opacity: 0.7; stroke: #ffffff; stroke-opacity: 0.7"/>
    <use href="#C0_0_8627b4304c" x="53.658" y="161.054" style="fill: #b40426; fill-opacity: 0.7; stroke: #ffffff; stroke-opacity: 0.7"/>
    <use href="#C0_0_8627b4304c" x="289.599" y="161.477" style="fill: #b40426; fill-opacity: 0.7; stroke: #ffffff; stroke-opacity: 0.7"/>
    <use href="#C0_0_8627b4304c" x="55.779" y="161.662" style="fill: #b40426; fill-opacity: 0.7; stroke: #ffffff; stroke-opacity: 0.7"/>
    <use href="#C0_0_8627b4304c" x="203.576" y="162.005" style="fill: #b40426; fill-opacity: 0.7; stroke: #ffffff; stroke-opacity: 0.7"/>
    <use href="#C0_0_8627b4304c" x="58.112" y="162.331" style="fill: #b40426; fill-opacity: 0.7; stroke: #ffffff; stroke-opacity: 0.7"/>
    <use href="#C0_0_8627b4304c" x="89.573" y="162.938" style="fill: #b40426; fill-opacity: 0.7; stroke: #ffffff; stroke-opacity: 0.7"/>
    <use href="#C0_0_8627b4304c" x="177.856" y="163.010" style="fill: #b40426; fill-opacity: 0.7; stroke: #ffffff; stroke-opacity: 0.7"/>
    <use href="#C0_0_8627b4304c" x="123.525" y="164.243" style="fill: #b40426; fill-opacity: 0.7; stroke: #ffffff; stroke-opacity: 0.7"/>
    <use href="#C0_0_8627b4304c" x="123.525" y="164.243" style="fill: #b40426; fill-opacity: 0.7; stroke: #ffffff; stroke-opacity: 0.7"/>
    <use href="#C0_0_8627b4304c" x="243.890" y="165.036" style="fill: #b40426; fill-opacity: 0.7; stroke: #ffffff; stroke-opacity: 0.7"/>
    <use href="#C0_0_8627b4304c" x="185.184" y="165.057" style="fill: #b40426; fill-opacity: 0.7; stroke: #ffffff; stroke-opacity: 0.7"/>
    <use href="#C0_0_8627b4304c" x="97.122" y="165.088" style="fill: #b40426; fill-opacity: 0.7; stroke: #ffffff; stroke-opacity: 0.7"/>
    <use href="#C0_0_8627b4304c" x="214.971" y="165.167" style="fill: #b40426; fill-opacity: 0.7; stroke: #ffffff; stroke-opacity: 0.7"/>
    <use href="#C0_0_8627b4304c" x="276.387" y="165.888" style="fill: #b40426; fill-opacity: 0.7; stroke: #ffffff; stroke-opacity: 0.7"/>
    <use href="#C0_0_8627b4304c" x="190.000" y="166.402" style="fill: #b40426; fill-opacity: 0.7; stroke: #ffffff; stroke-opacity: 0.7"/>
    <use href="#C0_0_8627b4304c" x="255.600" y="168.266" style="fill: #b40426; fill-opacity: 0.7; stroke: #ffffff; stroke-opacity: 0.7"/>
    <use href="#C0_0_8627b4304c" x="79.607" y="168.492" style="fill: #b40426; fill-opacity: 0.7; stroke: #ffffff; stroke-opacity: 0.7"/>
    <use href="#C0_0_8627b4304c" x="200.003" y="169.196" style="fill: #b40426; fill-opacity: 0.7; stroke: #ffffff; stroke-opacity: 0.7"/>
    <use href="#C0_0_8627b4304c" x="202.456" y="169.881" style="fill: #b40426; fill-opacity: 0.7; stroke: #ffffff; stroke-opacity: 0.7"/>
    <use href="#C0_0_8627b4304c" x="173.085" y="169.918" style="fill: #b40426; fill-opacity: 0.7; stroke: #ffffff; stroke-opacity: 0.7"/>
    <use href="#C0_0_8627b4304c" x="261.918" y="170.008" style="fill: #b40426; fill-opacity: 0.7; stroke: #ffffff; stroke-opacity: 0.7"/>
    <use href="#C0_0_8627b4304c" x="235.206" y="170.783" style="fill: #b40426; fill-opacity: 0.7; stroke: #ffffff; stroke-opacity: 0.7"/>
    <use href="#C0_0_8627b4304c" x="206.188" y="170.924" style="fill: #b40426; fill-opacity: 0.7; stroke: #ffffff; stroke-opacity: 0.7"/>
    <use href="#C0_0_8627b4304c" x="147.734" y="171.092" style="fill: #b40426; fill-opacity: 0.7; stroke: #ffffff; stroke-opacity: 0.7"/>
    <use href="#C0_0_8627b4304c" x="178.030" y="171.308" style="fill: #b40426; fill-opacity: 0.7; stroke: #ffffff; stroke-opacity: 0.7"/>
    <use href="#C0_0_8627b4304c" x="237.932" y="171.539" style="fill: #b40426; fill-opacity: 0.7; stroke: #ffffff; stroke-opacity: 0.7"/>
    <use href="#C0_0_8627b4304c" x="180.971" y="172.135" style="fill: #b40426; fill-opacity: 0.7; stroke: #ffffff; stroke-opacity: 0.7"/>
    <use href="#C0_0_8627b4304c" x="211.235" y="172.333" style="fill: #b40426; fill-opacity: 0.7; stroke: #ffffff; stroke-opacity: 0.7"/>
    <use href="#C0_0_8627b4304c" x="211.235" y="172.333" style="fill: #b40426; fill-opacity: 0.7; stroke: #ffffff; stroke-opacity: 0.7"/>
    <use href="#C0_0_8627b4304c" x="244.808" y="173.448" style="fill: #b40426; fill-opacity: 0.7; stroke: #ffffff; stroke-opacity: 0.7"/>
    <use href="#C0_0_8627b4304c" x="247.608" y="174.225" style="fill: #b40426; fill-opacity: 0.7; stroke: #ffffff; stroke-opacity: 0.7"/>
    <use href="#C0_0_8627b4304c" x="189.725" y="174.595" style="fill: #b40426; fill-opacity: 0.7; stroke: #ffffff; stroke-opacity: 0.7"/>
    <use href="#C0_0_8627b4304c" x="251.673" y="175.353" style="fill: #b40426; fill-opacity: 0.7; stroke: #ffffff; stroke-opacity: 0.7"/>
    <use href="#C0_0_8627b4304c" x="162.873" y="175.375" style="fill: #b40426; fill-opacity: 0.7; stroke: #ffffff; stroke-opacity: 0.7"/>
    <use href="#C0_0_8627b4304c" x="138.976" y="177.007" style="fill: #b40426; fill-opacity: 0.7; stroke: #ffffff; stroke-opacity: 0.7"/>
    <use href="#C0_0_8627b4304c" x="228.768" y="177.230" style="fill: #b40426; fill-opacity: 0.7; stroke: #ffffff; stroke-opacity: 0.7"/>
    <use href="#C0_0_8627b4304c" x="260.235" y="177.729" style="fill: #b40426; fill-opacity: 0.7; stroke: #ffffff; stroke-opacity: 0.7"/>
    <use href="#C0_0_8627b4304c" x="260.235" y="177.729" style="fill: #b40426; fill-opacity: 0.7; stroke: #ffffff; stroke-opacity: 0.7"/>
    <use href="#C0_0_8627b4304c" x="173.291" y="178.323" style="fill: #b40426; fill-opacity: 0.7; stroke: #ffffff; stroke-opacity: 0.7"/>
    <use href="#C0_0_8627b4304c" x="236.292" y="179.332" style="fill: #b40426; fill-opacity: 0.7; stroke: #ffffff; stroke-opacity: 0.7"/>
    <use href="#C0_0_8627b4304c" x="267.845" y="179.841" style="fill: #b40426; fill-opacity: 0.7; stroke: #ffffff; stroke-opacity: 0.7"/>
    <use href="#C0_0_8627b4304c" x="151.087" y="180.456" style="fill: #b40426; fill-opacity: 0.7; stroke: #ffffff; stroke-opacity: 0.7"/>
    <use href="#C0_0_8627b4304c" x="158.005" y="182.426" style="fill: #b40426; fill-opacity: 0.7; stroke: #ffffff; stroke-opacity: 0.7"/>
    <use href="#C0_0_8627b4304c" x="189.102" y="182.796" style="fill: #b40426; fill-opacity: 0.7; stroke: #ffffff; stroke-opacity: 0.7"/>
    <use href="#C0_0_8627b4304c" x="191.920" y="183.594" style="fill: #b40426; fill-opacity: 0.7; stroke: #ffffff; stroke-opacity: 0.7"/>
    <use href="#C0_0_8627b4304c" x="252.841" y="183.954" style="fill: #b40426; fill-opacity: 0.7; stroke: #ffffff; stroke-opacity: 0.7"/>
    <use href="#C0_0_8627b4304c" x="194.742" y="184.392" style="fill: #b40426; fill-opacity: 0.7; stroke: #ffffff; stroke-opacity: 0.7"/>
    <use href="#C0_0_8627b4304c" x="226.781" y="185.012" style="fill: #b40426; fill-opacity: 0.7; stroke: #ffffff; stroke-opacity: 0.7"/>
    <use href="#C0_0_8627b4304c" x="168.625" y="185.451" style="fill: #b40426; fill-opacity: 0.7; stroke: #ffffff; stroke-opacity: 0.7"/>
    <use href="#C0_0_8627b4304c" x="200.238" y="185.947" style="fill: #b40426; fill-opacity: 0.7; stroke: #ffffff; stroke-opacity: 0.7"/>
    <use href="#C0_0_8627b4304c" x="231.716" y="186.399" style="fill: #b40426; fill-opacity: 0.7; stroke: #ffffff; stroke-opacity: 0.7"/>
    <use href="#C0_0_8627b4304c" x="267.015" y="187.913" style="fill: #b40426; fill-opacity: 0.7; stroke: #ffffff; stroke-opacity: 0.7"/>
    <use href="#C0_0_8627b4304c" x="208.081" y="188.166" style="fill: #b40426; fill-opacity: 0.7; stroke: #ffffff; stroke-opacity: 0.7"/>
    <use href="#C0_0_8627b4304c" x="210.796" y="188.934" style="fill: #b40426; fill-opacity: 0.7; stroke: #ffffff; stroke-opacity: 0.7"/>
    <use href="#C0_0_8627b4304c" x="153.271" y="189.609" style="fill: #b40426; fill-opacity: 0.7; stroke: #ffffff; stroke-opacity: 0.7"/>
    <use href="#C0_0_8627b4304c" x="215.698" y="190.321" style="fill: #b40426; fill-opacity: 0.7; stroke: #ffffff; stroke-opacity: 0.7"/>
    <use href="#C0_0_8627b4304c" x="155.832" y="190.343" style="fill: #b40426; fill-opacity: 0.7; stroke: #ffffff; stroke-opacity: 0.7"/>
    <use href="#C0_0_8627b4304c" x="158.395" y="191.078" style="fill: #b40426; fill-opacity: 0.7; stroke: #ffffff; stroke-opacity: 0.7"/>
    <use href="#C0_0_8627b4304c" x="191.938" y="192.090" style="fill: #b40426; fill-opacity: 0.7; stroke: #ffffff; stroke-opacity: 0.7"/>
    <use href="#C0_0_8627b4304c" x="255.048" y="192.958" style="fill: #b40426; fill-opacity: 0.7; stroke: #ffffff; stroke-opacity: 0.7"/>
    <use href="#C0_0_8627b4304c" x="168.490" y="193.971" style="fill: #b40426; fill-opacity: 0.7; stroke: #ffffff; stroke-opacity: 0.7"/>
    <use href="#C0_0_8627b4304c" x="229.382" y="194.193" style="fill: #b40426; fill-opacity: 0.7; stroke: #ffffff; stroke-opacity: 0.7"/>
    <use href="#C0_0_8627b4304c" x="171.037" y="194.701" style="fill: #b40426; fill-opacity: 0.7; stroke: #ffffff; stroke-opacity: 0.7"/>
    <use href="#C0_0_8627b4304c" x="262.578" y="195.075" style="fill: #b40426; fill-opacity: 0.7; stroke: #ffffff; stroke-opacity: 0.7"/>
    <use href="#C0_0_8627b4304c" x="205.126" y="195.846" style="fill: #b40426; fill-opacity: 0.7; stroke: #ffffff; stroke-opacity: 0.7"/>
    <use href="#C0_0_8627b4304c" x="241.163" y="197.526" style="fill: #b40426; fill-opacity: 0.7; stroke: #ffffff; stroke-opacity: 0.7"/>
    <use href="#C0_0_8627b4304c" x="214.629" y="198.552" style="fill: #b40426; fill-opacity: 0.7; stroke: #ffffff; stroke-opacity: 0.7"/>
    <use href="#C0_0_8627b4304c" x="245.295" y="198.695" style="fill: #b40426; fill-opacity: 0.7; stroke: #ffffff; stroke-opacity: 0.7"/>
    <use href="#C0_0_8627b4304c" x="188.910" y="199.825" style="fill: #b40426; fill-opacity: 0.7; stroke: #ffffff; stroke-opacity: 0.7"/>
    <use href="#C0_0_8627b4304c" x="251.588" y="200.476" style="fill: #b40426; fill-opacity: 0.7; stroke: #ffffff; stroke-opacity: 0.7"/>
    <use href="#C0_0_8627b4304c" x="221.902" y="200.623" style="fill: #b40426; fill-opacity: 0.7; stroke: #ffffff; stroke-opacity: 0.7"/>
    <use href="#C0_0_8627b4304c" x="195.609" y="201.745" style="fill: #b40426; fill-opacity: 0.7; stroke: #ffffff; stroke-opacity: 0.7"/>
    <use href="#C0_0_8627b4304c" x="198.408" y="202.548" style="fill: #b40426; fill-opacity: 0.7; stroke: #ffffff; stroke-opacity: 0.7"/>
    <use href="#C0_0_8627b4304c" x="202.200" y="203.634" style="fill: #b40426; fill-opacity: 0.7; stroke: #ffffff; stroke-opacity: 0.7"/>
    <use href="#C0_0_8627b4304c" x="234.364" y="204.172" style="fill: #b40426; fill-opacity: 0.7; stroke: #ffffff; stroke-opacity: 0.7"/>
    <use href="#C0_0_8627b4304c" x="236.935" y="204.904" style="fill: #b40426; fill-opacity: 0.7; stroke: #ffffff; stroke-opacity: 0.7"/>
    <use href="#C0_0_8627b4304c" x="239.413" y="205.610" style="fill: #b40426; fill-opacity: 0.7; stroke: #ffffff; stroke-opacity: 0.7"/>
    <use href="#C0_0_8627b4304c" x="209.353" y="205.685" style="fill: #b40426; fill-opacity: 0.7; stroke: #ffffff; stroke-opacity: 0.7"/>
    <use href="#C0_0_8627b4304c" x="242.183" y="206.399" style="fill: #b40426; fill-opacity: 0.7; stroke: #ffffff; stroke-opacity: 0.7"/>
    <use href="#C0_0_8627b4304c" x="242.183" y="206.399" style="fill: #b40426; fill-opacity: 0.7; stroke: #ffffff; stroke-opacity: 0.7"/>
    <use href="#C0_0_8627b4304c" x="226.916" y="210.719" style="fill: #b40426; fill-opacity: 0.7; stroke: #ffffff; stroke-opacity: 0.7"/>
    <use href="#C0_0_8627b4304c" x="238.450" y="214.026" style="fill: #b40426; fill-opacity: 0.7; stroke: #ffffff; stroke-opacity: 0.7"/>
   </g>
  </g>
  <g id="axes_2">
   <g id="patch_6">
    <path d="M 434.448 429.12 
L 454.896 429.12 
L 454.896 4.248 
L 434.448 4.248 
z
" style="fill: #ffffff"/>
   </g>
   <g id="matplotlib.axis_1"/>
   <g id="matplotlib.axis_2">
    <g id="ytick_1">
     <g id="line2d_48">
      <defs>
       <path id="m03a2297e71" d="M 0 0 
L 6 0 
" style="stroke: #262626; stroke-width: 1.5"/>
      </defs>
      <g>
       <use href="#m03a2297e71" x="454.896" y="429.12" style="fill: #262626; stroke: #262626; stroke-width: 1.5"/>
      </g>
     </g>
     <g id="text_26">
      <g transform="translate(-0.36 0.40)"><text textLength="15.74" lengthAdjust="spacingAndGlyphs" style="font-size: 11px; font-family: 'DejaVu Sans', 'Liberation Sans', sans-serif; text-anchor: start; fill: #262626; stroke: #262626; stroke-width: 0.22" x="464.396" y="433.299">0.0</text></g>
     </g>
    </g>
    <g id="ytick_2">
     <g id="line2d_49">
      <g>
       <use href="#m03a2297e71" x="454.896" y="344.145" style="fill: #262626; stroke: #262626; stroke-width: 1.5"/>
      </g>
     </g>
     <g id="text_27">
      <g transform="translate(-0.36 0.40)"><text textLength="15.74" lengthAdjust="spacingAndGlyphs" style="font-size: 11px; font-family: 'DejaVu Sans', 'Liberation Sans', sans-serif; text-anchor: start; fill: #262626; stroke: #262626; stroke-width: 0.22" x="464.396" y="348.324">0.2</text></g>
     </g>
    </g>
    <g id="ytick_3">
     <g id="line2d_50">
      <g>
       <use href="#m03a2297e71" x="454.896" y="259.171" style="fill: #262626; stroke: #262626; stroke-width: 1.5"/>
      </g>
     </g>
     <g id="text_28">
      <g transform="translate(-0.36 0.40)"><text textLength="15.74" lengthAdjust="spacingAndGlyphs" style="font-size: 11px; font-family: 'DejaVu Sans', 'Liberation Sans', sans-serif; text-anchor: start; fill: #262626; stroke: #262626; stroke-width: 0.22" x="464.396" y="263.350">0.4</text></g>
     </g>
    </g>
    <g id="ytick_4">
     <g id="line2d_51">
      <g>
       <use href="#m03a2297e71" x="454.896" y="174.196" style="fill: #262626; stroke: #262626; stroke-width: 1.5"/>
      </g>
     </g>
     <g id="text_29">
      <g transform="translate(-0.36 0.40)"><text textLength="15.74" lengthAdjust="spacingAndGlyphs" style="font-size: 11px; font-family: 'DejaVu Sans', 'Liberation Sans', sans-serif; text-anchor: start; fill: #262626; stroke: #262626; stroke-width: 0.22" x="464.396" y="178.375">0.6</text></g>
     </g>
    </g>
    <g id="ytick_5">
     <g id="line2d_52">
      <g>
       <use href="#m03a2297e71" x="454.896" y="89.222" style="fill: #262626; stroke: #262626; stroke-width: 1.5"/>
      </g>
     </g>
     <g id="text_30">
      <g transform="translate(-0.36 0.40)"><text textLength="15.74" lengthAdjust="spacingAndGlyphs" style="font-size: 11px; font-family: 'DejaVu Sans', 'Liberation Sans', sans-serif; text-anchor: start; fill: #262626; stroke: #262626; stroke-width: 0.22" x="464.396" y="93.401">0.8</text></g>
     </g>
    </g>
    <g id="ytick_6">
     <g id="line2d_53">
      <g>
       <use href="#m03a2297e71" x="454.896" y="4.248" style="fill: #262626; stroke: #262626; stroke-width: 1.5"/>
      </g>
     </g>
     <g id="text_31">
      <g transform="translate(-0.36 0.40)"><text textLength="15.74" lengthAdjust="spacingAndGlyphs" style="font-size: 11px; font-family: 'DejaVu Sans', 'Liberation Sans', sans-serif; text-anchor: start; fill: #262626; stroke: #262626; stroke-width: 0.22" x="464.396" y="8.427">1.0</text></g>
     </g>
    </g>
    <g id="text_32">
     <g transform="translate(-1.94 0.00)"><text textLength="107.04" lengthAdjust="spacingAndGlyphs" style="font-size: 12px; font-family: 'DejaVu Sans', 'Liberation Sans', sans-serif; text-anchor: middle; fill: #262626; stroke: #262626; stroke-width: 0.22" x="495.007" y="216.684" transform="rotate(-90 495.007 216.684)">Diabetes Outcome</text></g>
    </g>
   </g>
   <defs><linearGradient id="cbgrad" x1="0" y1="0" x2="0" y2="1"><stop offset="0.000" stop-color="#c74f65"/><stop offset="0.005" stop-color="#c85266"/><stop offset="0.093" stop-color="#d37a71"/><stop offset="0.194" stop-color="#e89d8c"/><stop offset="0.296" stop-color="#f0b9a5"/><stop offset="0.397" stop-color="#edd0c1"/><stop offset="0.499" stop-color="#dfe0e0"/><stop offset="0.601" stop-color="#c3d4eb"/><stop offset="0.702" stop-color="#aabee1"/><stop offset="0.804" stop-color="#8fa6d4"/><stop offset="0.905" stop-color="#7a8fc8"/><stop offset="0.990" stop-color="#6b7dbc"/><stop offset="1.000" stop-color="#697bbb"/></linearGradient></defs><rect x="434.448" y="4.248" width="20.448" height="424.872" fill="url(#cbgrad)"/>
   <g id="LineCollection_1"/>
   <g id="patch_7">
    <path d="M 434.448 429.12 
L 444.672 429.12 
L 454.896 429.12 
L 454.896 4.248 
L 444.672 4.248 
L 434.448 4.248 
L 434.448 429.12 
z
" style="fill: none; stroke: #c3c7c7; stroke-width: 1.25; stroke-linejoin: miter; stroke-linecap: square"/>
   </g>
  </g>
 </g>
 <defs>
  <clipPath id="p52636c809b">
   <rect x="-22.831" y="4.248" width="424.872" height="424.872"/>
  </clipPath>
 </defs>
</svg>

</body></html>
